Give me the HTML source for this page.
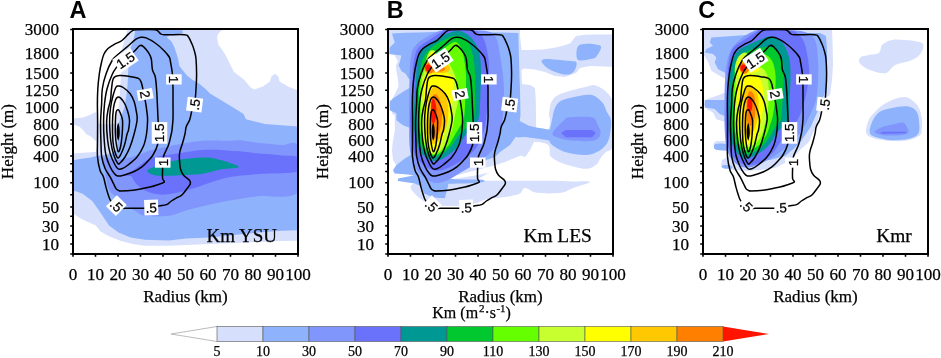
<!DOCTYPE html><html><head><meta charset="utf-8"><style>
html,body{margin:0;padding:0;background:#fff;width:941px;height:358px;overflow:hidden}
svg{display:block;will-change:transform}
text{font-family:"Liberation Serif",serif;fill:#000;stroke:#000;stroke-width:0.25px}
.t{font-size:17.1px}
.ax{font-size:17px}
.pl{font-family:"Liberation Sans",sans-serif;font-weight:bold;font-size:23.5px;stroke-width:0}
.cb{font-size:14px}
</style></head><body>
<svg width="941" height="358" viewBox="0 0 941 358">
<defs>
<clipPath id="cp0"><rect x="73" y="29" width="225" height="225"/></clipPath>
<clipPath id="cp1"><rect x="388" y="29" width="225" height="225"/></clipPath>
<clipPath id="cp2"><rect x="703" y="29" width="225" height="225"/></clipPath>
</defs>
<g clip-path="url(#cp0)"><rect x="73" y="29" width="225" height="225" fill="#d6e0fd"/><path d="M298.0,29.0L224.0,29.0L220.0,31.5L217.5,35.0L217.2,38.6L218.4,44.6L224.4,53.0L229.2,62.6L234.0,72.0L243.6,79.2L250.8,87.6L254.4,89.4L262.8,86.4L270.0,81.6L271.2,76.8L274.8,73.8L278.4,76.8L279.6,81.6L288.0,86.4L298.0,90.5Z" fill="#fff"/><path d="M73.0,29.0L127.6,29.0L126.0,35.0L124.5,40.0L122.5,47.0L121.5,53.0L121.0,60.0L121.0,72.0L120.4,84.0L119.8,96.0L119.0,106.0L117.5,112.0L116.5,118.0L116.0,124.0L105.0,124.5L98.0,123.5L96.8,116.0L96.5,112.0L94.8,112.5L89.7,115.0L83.0,117.6L74.7,118.4L73.0,118.5Z" fill="#fff"/><path d="M73.0,125.0L74.7,125.1L79.7,126.8L83.0,130.1L86.4,134.3L91.4,136.8L94.8,140.2L96.5,141.0L97.0,146.0L96.5,151.5L94.8,151.9L83.0,152.7L73.0,153.6Z" fill="#fff"/><path d="M73.0,213.4L80.2,218.2L87.4,221.8L95.8,225.4L100.6,231.4L109.0,236.2L121.0,241.0L133.0,244.0L145.0,245.8L169.0,245.8L186.0,245.0L210.0,244.0L234.0,243.0L258.0,242.0L282.0,241.0L298.0,240.8L298.0,254.0L73.0,254.0Z" fill="#fff"/><path d="M135.4,29.0L182.0,29.0L183.0,33.0L170.0,35.5L166.6,37.0L171.7,41.8L174.3,46.9L176.8,54.5L178.1,59.0L179.4,66.0L181.9,69.2L187.0,75.6L192.0,79.5L198.0,82.8L205.2,88.8L210.0,93.6L222.0,100.8L234.0,108.0L243.6,114.0L245.9,119.2L265.1,124.0L298.0,126.4L298.0,230.2L282.0,230.8L258.0,232.6L234.0,235.0L210.0,237.4L186.0,238.6L169.0,240.4L145.0,239.8L130.6,237.4L118.6,232.6L109.0,225.4L104.2,218.2L99.4,211.0L92.2,201.0L82.6,193.8L73.0,190.2L73.0,160.3L83.0,158.5L89.7,157.8L96.5,156.1L105.0,155.0L113.0,153.0L117.0,150.0L117.5,142.0L117.5,130.0L118.5,124.0L120.0,119.0L122.5,113.0L124.5,107.0L125.4,101.0L126.5,95.0L127.2,88.0L127.6,84.0L128.2,72.0L128.4,66.0L129.0,56.0L130.6,48.0L133.0,42.0L134.7,34.0Z" fill="#8fb2fc"/><path d="M103.0,158.0C103.9,156.2 107.5,158.2 110.0,158.5C112.5,158.8 115.5,160.0 118.0,160.0C120.5,160.0 122.2,159.2 125.0,158.5C127.8,157.8 131.7,157.0 135.0,156.0C138.3,155.0 142.5,153.4 145.0,152.5C147.5,151.6 146.4,151.5 150.0,150.5C153.6,149.5 161.2,147.9 166.8,146.7C172.4,145.5 178.0,144.4 183.6,143.4C189.2,142.4 195.1,141.4 200.3,140.9C205.5,140.4 210.1,140.5 215.0,140.5C219.9,140.5 225.8,140.8 230.0,140.8C234.2,140.8 235.6,140.0 240.0,140.3C244.4,140.6 251.9,142.1 256.6,142.7C261.3,143.3 263.8,143.3 268.0,143.7C272.2,144.1 277.0,144.6 282.0,145.1C287.0,145.6 295.3,138.7 298.0,146.5C300.7,154.3 304.7,183.7 298.0,192.0C291.3,200.3 268.7,194.9 258.0,196.2C247.3,197.5 242.0,198.4 234.0,199.8C226.0,201.2 218.0,202.8 210.0,204.6C202.0,206.4 192.8,208.7 186.0,210.6C179.2,212.5 175.8,214.9 169.0,215.8C162.2,216.7 150.6,216.6 145.0,215.8C139.4,215.0 138.8,212.9 135.4,211.0C132.0,209.1 127.8,206.9 124.6,204.6C121.4,202.3 119.2,199.6 116.5,197.0C113.8,194.4 110.7,193.7 108.7,189.1C106.8,184.5 105.8,174.8 104.8,169.6C103.8,164.4 102.1,159.8 103.0,158.0Z" fill="#8096fc"/><path d="M124.4,175.4C124.9,174.3 129.8,172.4 134.1,169.6C138.4,166.8 144.6,160.9 150.0,158.5C155.4,156.1 161.2,156.1 166.8,155.1C172.4,154.1 178.0,153.4 183.6,152.6C189.2,151.8 194.7,150.6 200.3,150.1C205.9,149.6 212.1,149.7 217.0,149.8C221.9,149.9 226.2,150.6 230.0,150.8C233.8,151.1 235.6,150.9 240.0,151.3C244.4,151.7 251.9,152.7 256.6,153.2C261.3,153.7 263.8,153.7 268.0,154.1C272.2,154.5 277.0,154.9 282.0,155.5C287.0,156.1 295.3,154.8 298.0,157.4C300.7,160.0 304.7,168.4 298.0,171.2C291.3,174.0 269.3,173.0 258.0,174.0C246.7,175.0 237.2,175.8 230.0,177.0C222.8,178.2 220.0,179.5 215.0,181.0C210.0,182.5 203.7,184.9 200.0,186.2C196.3,187.4 195.7,187.6 192.6,188.5C189.5,189.4 185.2,190.9 181.5,191.8C177.8,192.7 174.0,193.5 170.3,194.0C166.6,194.5 162.8,195.0 159.1,194.6C155.4,194.2 151.1,193.0 147.9,191.8C144.7,190.6 142.3,189.0 140.1,187.3C137.9,185.6 136.0,183.7 134.5,181.8C133.0,180.0 132.9,177.3 131.2,176.2C129.5,175.1 123.9,176.5 124.4,175.4Z" fill="#6a72fc"/><path d="M147.0,170.8C147.2,169.4 152.0,167.8 155.0,166.5C158.0,165.2 161.7,164.0 165.0,163.0C168.3,162.0 171.5,161.2 175.0,160.5C178.5,159.8 182.3,159.2 186.0,158.8C189.7,158.4 193.4,158.0 197.0,157.8C200.6,157.6 204.3,157.4 207.6,157.6C210.9,157.8 213.9,158.5 217.0,159.2C220.1,159.8 222.4,160.2 226.0,161.5C229.6,162.8 238.8,165.8 238.8,167.0C238.8,168.2 229.6,168.3 226.0,168.8C222.4,169.3 220.7,169.4 217.0,170.2C213.3,171.0 207.7,172.8 204.0,173.5C200.3,174.2 198.0,174.2 195.0,174.4C192.0,174.7 189.2,174.8 186.0,175.0C182.8,175.2 179.5,175.5 175.9,175.6C172.3,175.7 168.4,175.9 164.7,175.8C161.0,175.7 156.4,175.8 153.5,175.0C150.6,174.2 146.8,172.2 147.0,170.8Z" fill="#009892"/><path d="M118.0,208.2C115.5,207.0 112.5,203.2 110.9,201.0C109.3,198.8 109.2,197.7 108.4,195.3C107.6,193.0 106.7,190.0 105.9,186.9C105.1,183.8 104.4,179.6 103.4,176.8C102.4,174.0 101.0,173.5 100.0,170.2C99.0,166.8 97.9,161.7 97.5,156.7C97.1,151.7 97.5,145.8 97.5,140.0C97.5,134.2 97.6,128.0 97.6,122.0C97.6,116.0 97.4,109.5 97.4,104.0C97.4,98.5 97.5,94.0 97.8,89.0C98.1,84.0 98.7,78.5 99.3,74.0C99.9,69.5 100.8,65.3 101.6,62.0C102.4,58.7 102.9,56.2 104.0,54.0C105.1,51.8 106.3,50.1 108.0,48.5C109.7,46.9 112.0,45.6 114.3,44.3C116.6,43.0 119.7,42.2 122.0,40.5C124.3,38.8 126.7,35.7 128.4,34.1C130.1,32.5 130.9,31.6 132.2,30.9C133.5,30.2 132.2,30.0 136.0,29.8C139.8,29.6 151.1,29.2 155.2,29.8C159.2,30.4 158.8,32.7 160.3,33.5C161.8,34.3 160.1,34.5 164.1,34.7C168.1,34.9 180.5,34.4 184.5,34.7C188.5,35.0 187.0,35.1 188.3,36.7C189.6,38.3 191.0,41.8 192.1,44.3C193.2,46.8 194.0,49.5 194.7,52.0C195.3,54.5 195.7,55.3 196.0,59.0C196.3,62.7 196.6,69.0 196.6,74.0C196.6,79.0 196.3,84.7 196.0,89.0C195.7,93.3 195.7,96.5 195.0,100.0C194.3,103.5 192.9,106.7 192.0,110.0C191.1,113.3 190.6,117.2 189.6,120.0C188.6,122.8 186.9,124.5 186.2,126.7C185.4,128.9 185.7,130.8 185.1,133.4C184.5,136.0 183.6,139.7 182.8,142.3C182.1,144.9 181.2,147.1 180.6,149.0C180.0,150.9 179.7,152.2 179.5,154.0C179.3,155.8 179.3,157.5 179.5,160.0C179.7,162.5 179.8,166.4 180.5,169.0C181.2,171.6 182.1,173.4 183.6,175.3C185.1,177.2 188.3,178.9 189.4,180.3C190.5,181.7 190.7,182.3 190.3,183.7C189.9,185.1 188.3,186.8 186.9,188.7C185.5,190.6 183.5,193.6 181.9,195.0C180.3,196.4 179.2,196.4 177.4,197.4C175.7,198.4 173.2,199.8 171.4,201.0C169.6,202.2 168.7,203.8 166.6,204.6C164.5,205.4 162.6,205.4 158.8,206.0C155.0,206.6 149.3,207.8 143.8,208.2C138.3,208.6 130.1,208.2 125.8,208.2C121.5,208.2 120.5,209.4 118.0,208.2Z" fill="none" stroke="#000" stroke-width="1.5"/><path d="M116.0,188.6C115.2,187.5 114.5,185.6 113.5,183.6C112.5,181.6 111.5,179.3 110.1,176.8C108.7,174.3 106.5,171.8 105.1,168.5C103.7,165.2 102.4,161.4 101.7,156.7C101.0,151.9 101.1,145.8 100.9,140.0C100.7,134.2 100.5,128.0 100.6,122.0C100.7,116.0 101.3,109.5 101.6,104.0C101.9,98.5 101.6,94.0 102.3,89.0C103.0,84.0 104.3,78.8 106.0,74.0C107.7,69.2 110.2,63.5 112.4,60.0C114.6,56.5 117.0,55.4 119.4,53.2C121.9,51.0 124.3,49.2 127.1,46.9C129.9,44.6 133.7,40.8 136.0,39.2C138.3,37.6 139.4,37.5 141.1,37.3C142.8,37.1 143.8,36.9 146.2,37.9C148.5,38.9 152.2,40.9 155.2,43.0C158.2,45.1 161.8,48.4 164.1,50.7C166.4,53.0 168.1,55.1 169.2,57.0C170.3,58.9 170.0,59.2 170.5,62.0C171.0,64.8 172.0,69.5 172.4,74.0C172.8,78.5 172.9,84.0 173.0,89.0C173.1,94.0 173.0,99.0 173.0,104.0C173.0,109.0 173.2,114.7 173.0,119.0C172.8,123.3 172.3,127.3 172.0,130.0C171.7,132.7 171.6,132.5 171.0,135.0C170.4,137.5 169.8,141.4 168.5,145.0C167.2,148.6 164.4,152.9 163.4,156.8C162.4,160.7 162.7,165.0 162.6,168.6C162.5,172.2 162.3,176.4 162.6,178.6C162.9,180.8 165.0,181.0 164.3,182.0C163.6,183.0 160.8,183.7 158.4,184.5C156.0,185.3 154.2,186.1 150.0,187.0C145.8,187.9 137.8,189.5 133.0,190.2C128.2,190.9 123.4,191.0 121.0,191.0C118.6,191.0 119.3,190.7 118.5,190.3C117.7,189.9 116.8,189.7 116.0,188.6Z" fill="none" stroke="#000" stroke-width="1.5"/><path d="M117.6,176.0C116.1,175.7 115.5,175.0 114.3,173.5C113.0,172.0 111.5,169.9 110.1,166.8C108.7,163.7 106.9,159.5 105.9,155.0C104.9,150.5 104.6,145.5 104.2,140.0C103.8,134.5 103.5,128.0 103.6,122.0C103.6,116.0 103.9,109.5 104.5,104.0C105.1,98.5 105.7,94.0 107.0,89.0C108.3,84.0 110.7,77.7 112.4,74.0C114.1,70.3 114.9,69.6 117.0,66.8C119.1,64.0 122.2,59.5 125.0,57.0C127.8,54.5 131.0,53.9 133.5,52.0C136.0,50.1 138.1,46.5 139.8,45.6C141.5,44.8 142.2,45.6 143.7,46.9C145.2,48.2 147.5,51.2 148.8,53.2C150.1,55.2 150.7,56.2 151.3,59.0C151.9,61.8 151.8,67.0 152.5,70.0C153.2,73.0 154.6,73.5 155.3,77.0C156.0,80.5 156.2,83.8 156.7,91.0C157.2,98.2 157.7,113.2 158.1,120.0C158.5,126.8 159.1,127.8 159.0,132.0C158.9,136.2 158.5,141.2 157.5,145.0C156.5,148.8 154.6,152.3 153.0,155.0C151.4,157.7 149.8,159.0 148.0,161.0C146.2,163.0 144.3,165.0 141.9,166.8C139.5,168.6 136.7,170.4 133.6,171.8C130.5,173.2 126.2,174.5 123.5,175.2C120.8,175.9 119.1,176.3 117.6,176.0Z" fill="none" stroke="#000" stroke-width="1.5"/><path d="M117.6,168.5C116.3,167.6 115.5,166.0 114.3,163.5C113.0,161.0 111.2,157.3 110.1,153.4C109.0,149.5 108.2,145.2 107.6,140.0C107.0,134.8 106.5,127.0 106.6,122.0C106.7,117.0 107.3,113.7 108.0,110.0C108.7,106.3 109.9,103.5 110.5,100.0C111.1,96.5 111.0,92.6 111.5,89.0C112.0,85.4 112.2,80.6 113.4,78.4C114.7,76.2 116.4,75.9 119.0,75.6C121.6,75.2 125.6,75.8 128.8,76.3C132.1,76.8 136.4,77.4 138.5,78.4C140.6,79.5 140.6,81.0 141.3,82.6C142.0,84.2 142.2,86.1 142.7,88.2C143.1,90.3 143.5,92.7 144.0,95.0C144.5,97.3 145.0,99.3 145.5,102.1C146.0,104.9 146.6,108.9 146.9,111.9C147.2,114.9 147.7,116.3 147.6,120.0C147.5,123.7 147.2,129.7 146.5,134.0C145.8,138.3 145.1,142.2 143.5,146.0C141.9,149.8 139.6,153.8 137.0,157.0C134.4,160.2 130.5,163.0 128.0,165.0C125.5,167.0 123.5,168.2 121.8,168.8C120.1,169.4 118.8,169.4 117.6,168.5Z" fill="none" stroke="#000" stroke-width="1.5"/><path d="M117.9,163.5C116.7,162.1 114.7,157.6 113.5,154.0C112.3,150.4 111.6,147.3 110.9,142.0C110.2,136.7 109.7,127.7 109.6,122.0C109.5,116.3 109.9,112.5 110.5,108.0C111.1,103.5 112.2,98.5 113.2,95.0C114.2,91.5 115.2,88.3 116.2,86.8C117.2,85.3 117.8,86.0 119.0,86.1C120.2,86.2 121.3,86.2 123.2,87.5C125.1,88.8 128.3,91.3 130.2,93.7C132.0,96.1 133.3,99.1 134.3,102.1C135.3,105.1 135.9,108.9 136.4,111.9C136.9,114.9 137.5,116.3 137.1,120.0C136.7,123.7 135.3,129.5 134.1,134.0C132.9,138.5 131.5,143.2 130.0,147.0C128.5,150.8 126.6,154.4 125.0,157.0C123.4,159.6 121.7,161.4 120.5,162.5C119.3,163.6 119.1,164.9 117.9,163.5Z" fill="none" stroke="#000" stroke-width="1.5"/><path d="M118.0,158.0C117.0,157.7 115.8,154.7 115.0,152.0C114.2,149.3 113.4,147.0 113.0,142.0C112.6,137.0 112.4,127.7 112.5,122.0C112.6,116.3 113.0,111.7 113.5,108.0C114.0,104.3 114.8,101.8 115.5,100.0C116.2,98.2 116.8,97.5 117.6,97.2C118.4,96.9 119.2,96.9 120.4,97.9C121.6,99.0 123.4,101.4 124.6,103.5C125.8,105.6 126.6,107.8 127.4,110.5C128.2,113.2 129.3,116.8 129.5,120.0C129.7,123.2 128.9,127.7 128.5,130.0C128.1,132.3 127.8,131.5 127.1,134.0C126.4,136.5 125.5,141.7 124.5,145.0C123.5,148.3 122.1,151.8 121.0,154.0C119.9,156.2 119.0,158.3 118.0,158.0Z" fill="none" stroke="#000" stroke-width="1.5"/><path d="M118.4,151.8C117.7,151.5 116.8,147.0 116.3,144.0C115.8,141.0 115.6,137.7 115.4,134.0C115.2,130.3 115.3,125.7 115.4,122.0C115.5,118.3 115.7,113.9 116.2,111.9C116.7,109.9 117.6,109.6 118.3,109.8C119.0,110.0 119.7,111.6 120.4,113.3C121.1,115.0 122.2,117.5 122.5,120.0C122.8,122.5 122.6,125.3 122.5,128.0C122.4,130.7 122.3,133.0 122.0,136.0C121.7,139.0 121.3,143.4 120.7,146.0C120.1,148.6 119.1,152.1 118.4,151.8Z" fill="none" stroke="#000" stroke-width="1.5"/><path d="M118.2,122.8C120.3,127 120.3,137 118.2,140.8C116.1,137 116.1,127 118.2,122.8Z" fill="#000"/><g transform="translate(125.4,60.2) rotate(-34)"><rect x="-10.8" y="-7.75" width="21.6" height="15.5" fill="#fff"/><text x="0" y="4.83" text-anchor="middle" style="font-family:'Liberation Sans',sans-serif;font-size:13.5px">1.5</text></g><g transform="translate(173.9,79.4) rotate(90)"><rect x="-5.1" y="-7.75" width="10.2" height="15.5" fill="#fff"/><text x="0" y="4.83" text-anchor="middle" style="font-family:'Liberation Sans',sans-serif;font-size:13.5px">1</text></g><g transform="translate(194.6,104.6) rotate(-83)"><rect x="-7.0" y="-7.75" width="13.9" height="15.5" fill="#fff"/><text x="0" y="4.83" text-anchor="middle" style="font-family:'Liberation Sans',sans-serif;font-size:13.5px">.5</text></g><g transform="translate(145.1,94.4) rotate(80)"><rect x="-5.2" y="-7.75" width="10.5" height="15.5" fill="#fff"/><text x="0" y="4.83" text-anchor="middle" style="font-family:'Liberation Sans',sans-serif;font-size:13.5px">2</text></g><g transform="translate(159.5,132.9) rotate(-90)"><rect x="-10.8" y="-7.75" width="21.6" height="15.5" fill="#fff"/><text x="0" y="4.83" text-anchor="middle" style="font-family:'Liberation Sans',sans-serif;font-size:13.5px">1.5</text></g><g transform="translate(162.75,162.6) rotate(-90)"><rect x="-5.1" y="-7.75" width="10.2" height="15.5" fill="#fff"/><text x="0" y="4.83" text-anchor="middle" style="font-family:'Liberation Sans',sans-serif;font-size:13.5px">1</text></g><g transform="translate(116.4,205.7) rotate(45)"><rect x="-7.0" y="-7.75" width="13.9" height="15.5" fill="#fff"/><text x="0" y="4.83" text-anchor="middle" style="font-family:'Liberation Sans',sans-serif;font-size:13.5px">.5</text></g><g transform="translate(151.3,207.6) rotate(-2)"><rect x="-7.0" y="-7.75" width="13.9" height="15.5" fill="#fff"/><text x="0" y="4.83" text-anchor="middle" style="font-family:'Liberation Sans',sans-serif;font-size:13.5px">.5</text></g></g>
<rect x="73" y="29" width="225" height="225" fill="none" stroke="#000" stroke-width="2"/>
<path d="M70.2,254H73M70.2,29.5H73M70.2,53H73M70.2,73H73M70.2,90.2H73M70.2,107.6H73M70.2,124H73M70.2,140H73M70.2,156H73M70.2,163.8H73M70.2,171.5H73M70.2,182.7H73M70.2,194.7H73M70.2,207H73M70.2,216.2H73M70.2,226H73M70.2,235.2H73M70.2,244H73M73.0,254V256.8M95.5,254V256.8M118.0,254V256.8M140.5,254V256.8M163.0,254V256.8M185.5,254V256.8M208.0,254V256.8M230.5,254V256.8M253.0,254V256.8M275.5,254V256.8M298.0,254V256.8" stroke="#000" stroke-width="1.6" fill="none"/>
<text class="t" x="59" y="35.1" text-anchor="end">3000</text>
<text class="t" x="59" y="58.6" text-anchor="end">1800</text>
<text class="t" x="59" y="78.6" text-anchor="end">1500</text>
<text class="t" x="59" y="95.8" text-anchor="end">1250</text>
<text class="t" x="59" y="113.19999999999999" text-anchor="end">1000</text>
<text class="t" x="59" y="129.6" text-anchor="end">800</text>
<text class="t" x="59" y="145.6" text-anchor="end">600</text>
<text class="t" x="59" y="161.6" text-anchor="end">400</text>
<text class="t" x="59" y="188.29999999999998" text-anchor="end">100</text>
<text class="t" x="59" y="212.6" text-anchor="end">50</text>
<text class="t" x="59" y="231.6" text-anchor="end">30</text>
<text class="t" x="59" y="249.6" text-anchor="end">10</text>
<text class="t" x="73.0" y="279.8" text-anchor="middle">0</text>
<text class="t" x="95.5" y="279.8" text-anchor="middle">10</text>
<text class="t" x="118.0" y="279.8" text-anchor="middle">20</text>
<text class="t" x="140.5" y="279.8" text-anchor="middle">30</text>
<text class="t" x="163.0" y="279.8" text-anchor="middle">40</text>
<text class="t" x="185.5" y="279.8" text-anchor="middle">50</text>
<text class="t" x="208.0" y="279.8" text-anchor="middle">60</text>
<text class="t" x="230.5" y="279.8" text-anchor="middle">70</text>
<text class="t" x="253.0" y="279.8" text-anchor="middle">80</text>
<text class="t" x="275.5" y="279.8" text-anchor="middle">90</text>
<text class="t" x="298.0" y="279.8" text-anchor="middle">100</text>
<text class="ax" x="185.5" y="302" text-anchor="middle">Radius (km)</text>
<text class="ax" transform="translate(13.100000000000001,141.6) rotate(-90)" text-anchor="middle">Height (m)</text>
<text class="pl" x="69.6" y="17.6">A</text>
<text style="font-size:19px" x="206.5" y="241.8">Km YSU</text>
<g clip-path="url(#cp1)"><rect x="388" y="29" width="225" height="225" fill="#fff"/><path d="M388.0,29.0L520.0,29.0L520.0,36.0L521.5,50.0L531.0,50.0L543.0,49.5L553.0,48.0L562.0,46.0L570.0,43.5L576.0,36.0L585.0,34.8L594.6,34.6L609.0,34.6L613.0,34.6L613.0,67.0L605.0,66.5L590.0,66.0L580.0,68.0L576.0,73.0L565.0,77.0L555.0,76.0L545.0,72.0L535.0,69.5L524.0,68.5L521.5,70.0L522.0,84.0L530.0,85.0L535.0,88.0L535.8,100.0L536.0,118.0L536.0,130.0L534.0,142.0L530.0,150.0L526.0,156.0L519.0,160.0L510.0,163.0L500.0,167.0L490.0,172.0L480.0,178.0L470.0,184.0L462.0,188.0L450.0,192.0L440.0,193.0L430.0,190.0L420.0,183.0L412.0,176.0L405.0,172.0L398.0,168.0L393.0,160.0L392.0,150.0L393.0,140.0L394.7,130.0L394.0,120.0L392.0,112.0L390.0,100.0L390.0,90.0L391.0,80.0L393.0,70.0L392.0,60.0L388.0,55.0Z" fill="#d6e0fd"/><path d="M410.8,186.0C411.7,184.1 415.1,182.8 420.0,182.0C424.9,181.2 431.7,181.2 440.0,181.0C448.3,180.8 459.8,181.0 470.0,181.0C480.2,181.0 491.8,180.8 501.0,180.8C510.2,180.8 517.0,180.8 525.0,180.8C533.0,180.8 541.0,180.7 549.0,180.8C557.0,180.9 566.2,181.2 573.0,181.4C579.8,181.6 589.8,180.9 589.8,182.0C589.8,183.1 577.8,186.2 573.0,188.0C568.2,189.8 567.0,192.0 561.0,192.8C555.0,193.6 543.0,193.6 537.0,192.8C531.0,192.0 528.0,187.8 525.0,188.0C522.0,188.2 523.0,192.4 519.0,194.0C515.0,195.6 506.4,196.7 501.0,197.6C495.6,198.5 491.3,198.2 486.7,199.3C482.1,200.4 478.8,202.9 473.4,204.0C468.0,205.1 460.7,205.7 454.4,205.9C448.1,206.1 440.5,205.8 435.4,205.0C430.3,204.2 427.5,203.1 424.0,201.2C420.5,199.3 416.8,196.1 414.6,193.6C412.4,191.1 409.9,187.9 410.8,186.0Z" fill="#d6e0fd"/><path d="M549.0,115.0C549.4,110.7 549.8,105.4 551.4,102.0C553.0,98.6 555.0,96.8 558.6,94.8C562.2,92.8 568.2,91.4 573.0,90.0C577.8,88.6 583.8,87.2 587.4,86.4C591.0,85.6 591.8,84.6 594.6,85.2C597.4,85.8 601.4,87.8 604.2,90.0C607.0,92.2 609.9,95.9 611.4,98.4C612.9,100.9 612.7,97.2 613.0,105.0C613.3,112.8 614.2,137.2 613.0,145.0C611.8,152.8 608.1,149.8 606.0,152.0C603.9,154.2 602.1,156.0 600.6,158.0C599.1,160.0 599.2,162.2 597.0,164.0C594.8,165.8 591.4,168.4 587.4,168.8C583.4,169.2 577.4,167.4 573.0,166.4C568.6,165.4 564.4,164.2 561.0,162.8C557.6,161.4 554.8,159.8 552.6,158.0C550.4,156.2 548.6,154.7 548.0,152.0C547.4,149.3 548.8,146.0 549.0,142.0C549.2,138.0 549.0,132.5 549.0,128.0C549.0,123.5 548.6,119.3 549.0,115.0Z" fill="#d6e0fd"/><path d="M536.0,128.0L549.0,128.0L552.0,140.0L549.0,150.0L540.0,142.0L534.0,142.0Z" fill="#d6e0fd"/><path d="M537.0,116.0C538.8,114.3 547.0,114.0 549.0,116.0C551.0,118.0 549.8,125.9 549.0,128.0C548.2,130.1 545.8,128.8 544.0,128.5C542.2,128.2 539.2,128.1 538.0,126.0C536.8,123.9 535.2,117.7 537.0,116.0Z" fill="#fff"/><path d="M534.0,145.0C535.3,143.4 537.5,142.4 540.0,142.6C542.5,142.8 547.5,143.4 549.0,146.0C550.5,148.6 549.7,155.7 549.0,158.0C548.3,160.3 547.5,159.7 545.0,160.0C542.5,160.3 536.2,161.3 534.0,160.0C531.8,158.7 532.0,154.5 532.0,152.0C532.0,149.5 532.7,146.6 534.0,145.0Z" fill="#fff"/><path d="M388.0,54.0L394.4,54.9L397.9,61.2L395.8,65.4L396.5,72.3L397.9,79.3L398.6,86.3L395.8,91.9L391.6,100.0L388.0,100.0Z" fill="#fff"/><path d="M388.0,113.0L394.7,115.0L394.7,130.0L393.0,140.0L390.0,150.0L388.0,152.0Z" fill="#fff"/><path d="M549.0,139.0C549.5,143.5 552.0,144.8 555.0,147.0C558.0,149.2 562.0,151.2 567.0,152.5C572.0,153.8 580.0,155.1 585.0,155.0C590.0,154.9 593.4,153.8 597.0,152.0C600.6,150.2 604.4,147.2 606.6,144.0C608.8,140.8 609.5,137.0 610.2,133.0C610.9,129.0 611.6,123.6 611.0,120.0C610.4,116.4 607.9,114.4 606.6,111.6C605.3,108.8 605.0,105.8 603.0,103.2C601.0,100.6 597.2,97.4 594.6,96.0C592.0,94.6 591.0,94.6 587.4,94.8C583.8,95.0 577.4,96.2 573.0,97.2C568.6,98.2 564.0,99.0 561.0,100.8C558.0,102.6 556.5,104.8 555.0,108.0C553.5,111.2 553.0,114.8 552.0,120.0C551.0,125.2 548.5,134.5 549.0,139.0Z" fill="#8fb2fc"/><path d="M515.0,120.0C517.5,118.3 525.0,124.5 530.0,126.0C535.0,127.5 541.3,128.2 545.0,129.0C548.7,129.8 550.8,129.2 552.0,131.0C553.2,132.8 554.0,138.7 552.0,140.0C550.0,141.3 544.5,139.5 540.0,139.0C535.5,138.5 529.2,137.5 525.0,137.0C520.8,136.5 516.7,138.8 515.0,136.0C513.3,133.2 512.5,121.7 515.0,120.0Z" fill="#8fb2fc"/><path d="M541.5,61.1C541.5,59.8 543.1,59.2 545.7,59.0C548.3,58.8 552.7,59.4 556.9,59.7C561.1,60.1 567.6,60.6 570.9,61.1C574.2,61.6 575.8,61.1 576.5,62.5C577.2,63.9 576.0,67.6 575.1,69.5C574.2,71.4 572.8,72.9 570.9,73.7C569.0,74.5 566.9,74.9 563.9,74.4C560.9,73.9 555.7,72.2 552.7,70.9C549.7,69.6 547.6,68.3 545.7,66.7C543.8,65.1 541.5,62.4 541.5,61.1Z" fill="#8fb2fc"/><path d="M577.8,46.5C579.4,43.8 584.1,43.9 587.6,43.7C591.1,43.5 596.6,44.3 598.8,45.1C601.0,45.9 601.4,46.6 600.9,48.6C600.4,50.6 597.8,55.2 596.0,56.9C594.2,58.6 593.4,58.5 590.4,59.0C587.4,59.5 579.9,61.8 577.8,59.7C575.7,57.6 576.2,49.2 577.8,46.5Z" fill="#8fb2fc"/><path d="M392.0,33.5L405.0,32.8L420.0,32.5L445.0,31.5L470.0,32.0L500.0,32.5L518.5,33.0L518.5,40.0L519.0,60.0L519.5,75.0L520.0,90.0L520.5,115.0L519.0,125.0L517.0,135.0L510.0,145.0L500.0,152.0L495.0,157.0L485.0,160.5L470.0,162.5L457.0,166.0L450.0,174.0L448.0,186.0L444.9,198.3L433.5,197.4L424.0,193.6L420.3,186.0L414.8,183.5L398.0,181.0L398.0,178.5L414.8,175.2L404.8,174.3L394.7,173.5L393.0,170.2L396.4,165.1L404.8,158.4L413.0,153.4L411.5,128.6L403.0,125.2L396.4,120.2L396.4,113.5L389.7,110.2L389.7,101.8L393.0,98.4L403.0,91.7L411.5,86.7L412.5,82.0L408.3,78.0L405.6,73.7L401.4,71.0L398.6,65.4L400.0,61.2L401.4,55.6L389.5,54.0L389.7,47.5L394.7,42.4Z" fill="#8fb2fc"/><path d="M447.0,178.5C449.2,177.5 455.3,175.8 460.0,174.5C464.7,173.2 470.0,171.8 475.0,170.5C480.0,169.2 485.0,167.9 490.0,166.5C495.0,165.1 500.0,163.8 505.0,162.0C510.0,160.2 516.8,156.7 520.0,156.0C523.2,155.3 524.0,156.7 524.0,158.0C524.0,159.3 523.2,162.2 520.0,164.0C516.8,165.8 510.0,167.1 505.0,168.5C500.0,169.9 495.0,171.3 490.0,172.5C485.0,173.7 480.0,174.6 475.0,175.5C470.0,176.4 464.7,177.2 460.0,178.0C455.3,178.8 449.2,180.4 447.0,180.5C444.8,180.6 444.8,179.5 447.0,178.5Z" fill="#fff"/><path d="M440.0,178.5C443.3,177.9 453.0,179.3 460.0,179.5C467.0,179.7 478.3,179.4 482.0,179.8C485.7,180.2 485.7,181.6 482.0,182.2C478.3,182.8 467.0,183.5 460.0,183.6C453.0,183.7 443.3,183.8 440.0,183.0C436.7,182.2 436.7,179.1 440.0,178.5Z" fill="#8fb2fc"/><path d="M445.0,30.0C450.8,29.5 462.5,29.7 470.0,30.0C477.5,30.3 485.5,30.3 490.0,32.0C494.5,33.7 495.3,36.2 497.0,40.0C498.7,43.8 499.0,49.2 500.0,55.0C501.0,60.8 502.3,68.3 503.0,75.0C503.7,81.7 504.0,88.3 504.0,95.0C504.0,101.7 503.7,108.3 503.0,115.0C502.3,121.7 501.5,129.5 500.0,135.0C498.5,140.5 496.7,144.2 494.0,148.0C491.3,151.8 487.7,155.0 484.0,158.0C480.3,161.0 476.0,163.5 472.0,166.0C468.0,168.5 464.0,170.7 460.0,173.0C456.0,175.3 452.0,178.3 448.0,180.0C444.0,181.7 439.8,183.3 436.0,183.0C432.2,182.7 428.2,180.2 425.0,178.0C421.8,175.8 419.2,173.0 417.0,170.0C414.8,167.0 413.2,164.2 412.0,160.0C410.8,155.8 410.0,150.8 409.5,145.0C409.0,139.2 409.2,132.5 409.2,125.0C409.1,117.5 409.1,107.5 409.2,100.0C409.2,92.5 409.4,85.8 409.5,80.0C409.6,74.2 409.6,69.7 410.0,65.0C410.4,60.3 410.8,55.5 412.0,52.0C413.2,48.5 414.8,46.3 417.0,44.0C419.2,41.7 422.0,39.8 425.0,38.0C428.0,36.2 431.7,34.3 435.0,33.0C438.3,31.7 439.2,30.5 445.0,30.0Z" fill="#8096fc"/><path d="M446.0,29.5C451.0,29.2 466.3,29.2 472.0,30.0C477.7,30.8 477.8,32.0 480.0,34.0C482.2,36.0 483.6,37.8 485.0,42.0C486.4,46.2 487.8,53.5 488.5,59.0C489.2,64.5 489.0,69.8 489.0,75.0C489.0,80.2 488.8,84.2 488.5,90.0C488.2,95.8 487.8,103.3 487.0,110.0C486.2,116.7 485.8,123.7 484.0,130.0C482.2,136.3 479.2,143.3 476.0,148.0C472.8,152.7 469.0,155.0 465.0,158.0C461.0,161.0 456.2,163.9 452.0,166.0C447.8,168.1 443.7,170.0 440.0,170.5C436.3,171.0 433.2,170.2 430.0,169.0C426.8,167.8 423.5,165.3 421.0,163.0C418.5,160.7 416.6,158.8 415.0,155.0C413.4,151.2 412.3,146.0 411.5,140.0C410.7,134.0 410.0,125.7 410.0,119.0C410.0,112.3 411.1,106.5 411.5,100.0C411.9,93.5 412.2,85.8 412.5,80.0C412.8,74.2 412.6,70.0 413.3,65.0C414.0,60.0 415.0,53.9 416.7,50.3C418.4,46.7 421.2,45.4 423.5,43.5C425.8,41.6 428.3,40.5 430.3,39.2C432.3,37.9 433.4,37.1 435.4,35.8C437.4,34.5 440.4,32.6 442.2,31.6C444.0,30.6 441.0,29.8 446.0,29.5Z" fill="#6a72fc"/><path d="M457.0,31.0C459.8,30.8 461.8,31.5 464.0,32.4C466.2,33.3 468.2,34.9 470.0,36.5C471.8,38.1 473.1,39.8 474.5,42.0C475.9,44.2 477.5,47.0 478.5,50.0C479.5,53.0 480.1,55.8 480.5,60.0C480.9,64.2 481.0,70.0 481.0,75.0C481.0,80.0 480.7,85.0 480.5,90.0C480.3,95.0 480.3,100.2 480.0,105.0C479.7,109.8 479.8,115.2 478.5,119.0C477.2,122.8 474.3,125.2 472.0,128.0C469.7,130.8 466.9,133.0 464.7,136.0C462.5,139.0 461.3,143.2 459.0,146.0C456.7,148.8 453.5,151.0 451.0,153.0C448.5,155.0 446.3,156.7 444.0,158.0C441.7,159.3 439.3,160.7 437.0,161.0C434.7,161.3 432.3,161.0 430.0,160.0C427.7,159.0 425.0,157.2 423.0,155.0C421.0,152.8 419.3,150.2 418.0,147.0C416.7,143.8 415.7,140.7 415.0,136.0C414.3,131.3 413.9,125.0 413.8,119.0C413.7,113.0 414.1,106.5 414.5,100.0C414.9,93.5 415.6,85.8 416.0,80.0C416.4,74.2 416.4,69.2 417.0,65.0C417.6,60.8 418.2,57.8 419.3,55.0C420.4,52.2 421.7,50.0 423.5,48.0C425.3,46.0 427.6,44.6 430.0,43.0C432.4,41.4 435.2,40.0 438.0,38.4C440.8,36.8 443.8,34.7 447.0,33.5C450.2,32.3 454.2,31.2 457.0,31.0Z" fill="#009892"/><path d="M456.0,35.5C459.0,35.2 461.8,36.2 464.0,37.5C466.2,38.8 467.7,40.6 469.0,43.0C470.3,45.4 471.2,48.8 472.0,52.0C472.8,55.2 473.5,58.2 474.0,62.0C474.5,65.8 474.8,70.3 475.0,75.0C475.2,79.7 475.0,85.0 475.0,90.0C475.0,95.0 475.2,100.2 475.0,105.0C474.8,109.8 475.3,115.2 473.8,119.0C472.3,122.8 468.6,125.2 466.0,128.0C463.4,130.8 460.7,133.2 458.4,136.0C456.1,138.8 454.1,142.5 452.0,145.0C449.9,147.5 448.0,149.3 446.0,151.0C444.0,152.7 442.0,154.1 440.0,155.0C438.0,155.9 436.0,156.7 434.0,156.5C432.0,156.3 429.9,155.4 428.0,154.0C426.1,152.6 424.0,150.3 422.5,148.0C421.0,145.7 419.8,143.3 419.0,140.0C418.2,136.7 417.8,132.2 417.5,128.0C417.2,123.8 417.0,119.7 417.0,115.0C417.0,110.3 417.1,105.0 417.3,100.0C417.5,95.0 417.8,89.7 418.2,85.0C418.6,80.3 419.3,76.2 420.0,72.0C420.7,67.8 421.3,63.3 422.5,60.0C423.7,56.7 424.9,54.5 427.0,52.0C429.1,49.5 431.8,47.2 435.0,45.0C438.2,42.8 442.5,40.6 446.0,39.0C449.5,37.4 453.0,35.8 456.0,35.5Z" fill="#00c82e"/><path d="M455.0,42.0C457.3,41.8 458.7,44.0 460.0,46.0C461.3,48.0 462.2,50.8 463.0,54.0C463.8,57.2 464.5,61.5 465.0,65.0C465.5,68.5 465.8,71.2 466.0,75.0C466.2,78.8 466.1,83.8 466.0,88.0C465.9,92.2 465.7,94.8 465.3,100.0C464.9,105.2 464.9,114.3 463.8,119.0C462.8,123.7 460.6,125.2 459.0,128.0C457.4,130.8 455.9,133.2 454.2,136.0C452.5,138.8 451.0,142.4 449.0,145.0C447.0,147.6 444.2,149.8 442.0,151.5C439.8,153.2 437.5,154.8 435.5,155.0C433.5,155.2 431.8,154.3 430.0,153.0C428.2,151.7 426.4,149.5 425.0,147.0C423.6,144.5 422.4,141.2 421.5,138.0C420.6,134.8 420.2,131.8 419.8,128.0C419.4,124.2 419.4,119.7 419.3,115.0C419.2,110.3 419.0,104.5 419.0,100.0C419.0,95.5 419.2,91.7 419.5,88.0C419.8,84.3 419.9,81.3 420.5,78.0C421.1,74.7 421.4,71.0 423.0,68.0C424.6,65.0 427.5,62.3 430.0,60.0C432.5,57.7 435.3,56.2 438.0,54.0C440.7,51.8 443.2,49.0 446.0,47.0C448.8,45.0 452.7,42.2 455.0,42.0Z" fill="#66ff00"/><path d="M441.0,58.0C443.5,58.2 446.2,60.2 448.0,62.0C449.8,63.8 450.8,66.5 452.0,69.0C453.2,71.5 454.6,73.8 455.5,77.0C456.4,80.2 457.1,84.2 457.5,88.0C457.9,91.8 458.4,95.5 458.0,100.0C457.6,104.5 455.9,110.3 455.0,115.0C454.1,119.7 453.4,124.5 452.5,128.0C451.6,131.5 450.4,133.5 449.3,136.0C448.2,138.5 447.4,140.7 446.0,143.0C444.6,145.3 442.8,148.2 441.0,150.0C439.2,151.8 436.8,153.7 435.0,154.0C433.2,154.3 431.6,153.3 430.0,152.0C428.4,150.7 426.7,148.5 425.5,146.0C424.3,143.5 423.6,140.5 423.0,137.0C422.4,133.5 422.3,129.2 422.0,125.0C421.7,120.8 421.5,116.2 421.3,112.0C421.1,107.8 421.1,104.0 421.0,100.0C420.9,96.0 420.8,91.7 421.0,88.0C421.2,84.3 421.2,81.3 422.0,78.0C422.8,74.7 424.2,70.8 426.0,68.0C427.8,65.2 430.5,62.7 433.0,61.0C435.5,59.3 438.5,57.8 441.0,58.0Z" fill="#c8ff2e"/><path d="M432.0,72.0C434.5,71.2 437.3,71.2 440.0,71.5C442.7,71.8 445.8,72.4 448.0,73.5C450.2,74.6 452.1,75.6 453.0,78.0C453.9,80.4 453.6,84.3 453.5,88.0C453.4,91.7 453.0,95.5 452.5,100.0C452.0,104.5 451.3,110.8 450.3,115.0C449.3,119.2 447.6,121.5 446.5,125.0C445.4,128.5 444.6,132.8 443.7,136.0C442.8,139.2 442.1,141.7 441.0,144.0C439.9,146.3 438.3,148.6 437.0,150.0C435.7,151.4 434.2,152.5 433.0,152.5C431.8,152.5 430.5,151.6 429.5,150.0C428.5,148.4 427.7,146.0 427.0,143.0C426.3,140.0 425.9,135.8 425.5,132.0C425.1,128.2 425.0,124.5 424.8,120.0C424.6,115.5 424.4,109.2 424.3,105.0C424.2,100.8 424.1,98.3 424.0,95.0C423.9,91.7 423.3,88.2 423.5,85.0C423.7,81.8 423.6,78.2 425.0,76.0C426.4,73.8 429.5,72.8 432.0,72.0Z" fill="#ffff00"/><path d="M436.0,86.0C437.4,86.0 439.5,86.7 441.0,88.0C442.5,89.3 443.9,91.7 445.0,94.0C446.1,96.3 446.9,99.0 447.5,102.0C448.1,105.0 448.6,108.3 448.5,112.0C448.4,115.7 447.9,120.3 447.0,124.0C446.1,127.7 444.5,131.2 443.0,134.0C441.5,136.8 439.7,139.3 438.0,141.0C436.3,142.7 434.4,144.2 433.0,144.0C431.6,143.8 430.3,142.3 429.5,140.0C428.7,137.7 428.3,133.7 428.0,130.0C427.7,126.3 427.8,122.2 427.8,118.0C427.8,113.8 427.6,109.0 428.0,105.0C428.4,101.0 429.2,96.8 430.0,94.0C430.8,91.2 431.5,89.3 432.5,88.0C433.5,86.7 434.6,86.0 436.0,86.0Z" fill="#ffc800"/><path d="M435.0,94.0C436.0,94.0 437.5,95.3 438.5,97.0C439.5,98.7 440.4,101.2 441.0,104.0C441.6,106.8 442.0,110.3 442.0,114.0C442.0,117.7 441.7,122.5 441.0,126.0C440.3,129.5 439.1,132.8 438.0,135.0C436.9,137.2 435.5,138.8 434.5,139.0C433.5,139.2 432.6,138.0 432.0,136.0C431.4,134.0 431.2,130.7 431.0,127.0C430.8,123.3 430.8,118.0 430.8,114.0C430.8,110.0 430.9,105.8 431.2,103.0C431.5,100.2 431.9,98.5 432.5,97.0C433.1,95.5 434.0,94.0 435.0,94.0Z" fill="#ff7f00"/><path d="M433.2,98.5C433.8,98.5 434.8,100.2 435.3,102.0C435.8,103.8 436.2,106.5 436.3,109.0C436.4,111.5 436.3,114.8 436.0,117.0C435.7,119.2 435.1,121.5 434.5,122.5C433.9,123.5 433.0,123.8 432.5,123.0C432.0,122.2 431.6,120.3 431.3,118.0C431.1,115.7 430.9,111.7 431.0,109.0C431.1,106.3 431.2,103.8 431.6,102.0C432.0,100.2 432.6,98.5 433.2,98.5Z" fill="#ff1400"/><path d="M426.0,60.0C426.7,57.4 428.2,53.1 429.5,51.5C430.8,49.9 432.9,49.9 434.0,50.5C435.1,51.1 436.0,52.6 436.0,55.0C436.0,57.4 435.2,62.5 434.0,65.0C432.8,67.5 430.4,69.7 429.0,70.0C427.6,70.3 426.0,68.7 425.5,67.0C425.0,65.3 425.3,62.6 426.0,60.0Z" fill="#c8ff2e"/><path d="M428.0,60.0C428.5,57.9 429.5,54.8 430.5,53.5C431.5,52.2 433.2,52.1 434.0,52.5C434.8,52.9 435.2,54.2 435.0,56.0C434.8,57.8 433.8,61.0 433.0,63.0C432.2,65.0 430.9,67.5 430.0,68.0C429.1,68.5 427.8,67.3 427.5,66.0C427.2,64.7 427.5,62.1 428.0,60.0Z" fill="#ffff00"/><path d="M552.6,133.0C553.6,130.0 562.0,122.4 564.6,119.8C567.2,117.2 563.6,117.8 568.2,117.4C572.8,117.0 587.4,116.4 592.2,117.4C597.0,118.4 595.6,120.8 597.0,123.4C598.4,126.0 601.0,130.2 600.6,133.0C600.2,135.8 599.2,138.9 594.6,140.2C590.0,141.5 579.0,141.2 573.0,140.8C567.0,140.4 562.0,139.1 558.6,137.8C555.2,136.5 551.6,136.0 552.6,133.0Z" fill="#8096fc"/><path d="M561.0,133.0L565.8,130.0L592.2,130.0L595.8,133.0L592.2,137.2L565.8,137.2Z" fill="#6a72fc"/><path d="M425.0,64.0C425.9,63.0 427.5,62.1 430.0,62.0C432.5,61.9 437.0,63.0 440.0,63.5C443.0,64.0 446.3,64.1 448.0,65.0C449.7,65.9 450.3,67.8 450.0,69.0C449.7,70.2 448.3,71.8 446.0,72.5C443.7,73.2 439.0,73.1 436.0,73.0C433.0,72.9 429.9,72.8 428.0,72.0C426.1,71.2 425.0,69.3 424.5,68.0C424.0,66.7 424.1,65.0 425.0,64.0Z" fill="#ffc800"/><path d="M426.0,65.5C426.5,64.4 428.8,63.9 431.0,64.0C433.2,64.1 436.7,65.3 439.0,66.0C441.3,66.7 444.3,67.2 445.0,68.0C445.7,68.8 444.5,70.4 443.0,71.0C441.5,71.6 438.5,71.6 436.0,71.5C433.5,71.4 429.7,71.5 428.0,70.5C426.3,69.5 425.5,66.6 426.0,65.5Z" fill="#ff7f00"/><path d="M425.0,64.0C425.8,63.0 427.6,62.3 429.0,62.5C430.4,62.7 432.7,63.8 433.5,65.0C434.3,66.2 434.4,68.6 434.0,70.0C433.6,71.4 432.2,73.1 431.0,73.5C429.8,73.9 427.6,73.3 426.5,72.5C425.4,71.7 424.8,69.9 424.5,68.5C424.2,67.1 424.2,65.0 425.0,64.0Z" fill="#ff7f00"/><path d="M426.0,65.5C426.6,64.8 428.2,64.2 429.0,64.5C429.8,64.8 430.8,66.0 431.0,67.0C431.2,68.0 431.1,69.8 430.5,70.5C429.9,71.2 428.3,71.8 427.5,71.5C426.7,71.2 425.8,70.0 425.5,69.0C425.2,68.0 425.4,66.2 426.0,65.5Z" fill="#ff1400"/><g transform="translate(315,0)"><path d="M118.0,208.2C115.5,207.0 112.5,203.2 110.9,201.0C109.3,198.8 109.2,197.7 108.4,195.3C107.6,193.0 106.7,190.0 105.9,186.9C105.1,183.8 104.4,179.6 103.4,176.8C102.4,174.0 101.0,173.5 100.0,170.2C99.0,166.8 97.9,161.7 97.5,156.7C97.1,151.7 97.5,145.8 97.5,140.0C97.5,134.2 97.6,128.0 97.6,122.0C97.6,116.0 97.4,109.5 97.4,104.0C97.4,98.5 97.5,94.0 97.8,89.0C98.1,84.0 98.7,78.5 99.3,74.0C99.9,69.5 100.8,65.3 101.6,62.0C102.4,58.7 102.9,56.2 104.0,54.0C105.1,51.8 106.3,50.1 108.0,48.5C109.7,46.9 112.0,45.6 114.3,44.3C116.6,43.0 119.7,42.2 122.0,40.5C124.3,38.8 126.7,35.7 128.4,34.1C130.1,32.5 130.9,31.6 132.2,30.9C133.5,30.2 132.2,30.0 136.0,29.8C139.8,29.6 151.1,29.2 155.2,29.8C159.2,30.4 158.8,32.7 160.3,33.5C161.8,34.3 160.1,34.5 164.1,34.7C168.1,34.9 180.5,34.4 184.5,34.7C188.5,35.0 187.0,35.1 188.3,36.7C189.6,38.3 191.0,41.8 192.1,44.3C193.2,46.8 194.0,49.5 194.7,52.0C195.3,54.5 195.7,55.3 196.0,59.0C196.3,62.7 196.6,69.0 196.6,74.0C196.6,79.0 196.3,84.7 196.0,89.0C195.7,93.3 195.7,96.5 195.0,100.0C194.3,103.5 192.9,106.7 192.0,110.0C191.1,113.3 190.6,117.2 189.6,120.0C188.6,122.8 186.9,124.5 186.2,126.7C185.4,128.9 185.7,130.8 185.1,133.4C184.5,136.0 183.6,139.7 182.8,142.3C182.1,144.9 181.2,147.1 180.6,149.0C180.0,150.9 179.7,152.2 179.5,154.0C179.3,155.8 179.3,157.5 179.5,160.0C179.7,162.5 179.8,166.4 180.5,169.0C181.2,171.6 182.1,173.4 183.6,175.3C185.1,177.2 188.3,178.9 189.4,180.3C190.5,181.7 190.7,182.3 190.3,183.7C189.9,185.1 188.3,186.8 186.9,188.7C185.5,190.6 183.5,193.6 181.9,195.0C180.3,196.4 179.2,196.4 177.4,197.4C175.7,198.4 173.2,199.8 171.4,201.0C169.6,202.2 168.7,203.8 166.6,204.6C164.5,205.4 162.6,205.4 158.8,206.0C155.0,206.6 149.3,207.8 143.8,208.2C138.3,208.6 130.1,208.2 125.8,208.2C121.5,208.2 120.5,209.4 118.0,208.2Z" fill="none" stroke="#000" stroke-width="1.5"/><path d="M116.0,188.6C115.2,187.5 114.5,185.6 113.5,183.6C112.5,181.6 111.5,179.3 110.1,176.8C108.7,174.3 106.5,171.8 105.1,168.5C103.7,165.2 102.4,161.4 101.7,156.7C101.0,151.9 101.1,145.8 100.9,140.0C100.7,134.2 100.5,128.0 100.6,122.0C100.7,116.0 101.3,109.5 101.6,104.0C101.9,98.5 101.6,94.0 102.3,89.0C103.0,84.0 104.3,78.8 106.0,74.0C107.7,69.2 110.2,63.5 112.4,60.0C114.6,56.5 117.0,55.4 119.4,53.2C121.9,51.0 124.3,49.2 127.1,46.9C129.9,44.6 133.7,40.8 136.0,39.2C138.3,37.6 139.4,37.5 141.1,37.3C142.8,37.1 143.8,36.9 146.2,37.9C148.5,38.9 152.2,40.9 155.2,43.0C158.2,45.1 161.8,48.4 164.1,50.7C166.4,53.0 168.1,55.1 169.2,57.0C170.3,58.9 170.0,59.2 170.5,62.0C171.0,64.8 172.0,69.5 172.4,74.0C172.8,78.5 172.9,84.0 173.0,89.0C173.1,94.0 173.0,99.0 173.0,104.0C173.0,109.0 173.2,114.7 173.0,119.0C172.8,123.3 172.3,127.3 172.0,130.0C171.7,132.7 171.6,132.5 171.0,135.0C170.4,137.5 169.8,141.4 168.5,145.0C167.2,148.6 164.4,152.9 163.4,156.8C162.4,160.7 162.7,165.0 162.6,168.6C162.5,172.2 162.3,176.4 162.6,178.6C162.9,180.8 165.0,181.0 164.3,182.0C163.6,183.0 160.8,183.7 158.4,184.5C156.0,185.3 154.2,186.1 150.0,187.0C145.8,187.9 137.8,189.5 133.0,190.2C128.2,190.9 123.4,191.0 121.0,191.0C118.6,191.0 119.3,190.7 118.5,190.3C117.7,189.9 116.8,189.7 116.0,188.6Z" fill="none" stroke="#000" stroke-width="1.5"/><path d="M117.6,176.0C116.1,175.7 115.5,175.0 114.3,173.5C113.0,172.0 111.5,169.9 110.1,166.8C108.7,163.7 106.9,159.5 105.9,155.0C104.9,150.5 104.6,145.5 104.2,140.0C103.8,134.5 103.5,128.0 103.6,122.0C103.6,116.0 103.9,109.5 104.5,104.0C105.1,98.5 105.7,94.0 107.0,89.0C108.3,84.0 110.7,77.7 112.4,74.0C114.1,70.3 114.9,69.6 117.0,66.8C119.1,64.0 122.2,59.5 125.0,57.0C127.8,54.5 131.0,53.9 133.5,52.0C136.0,50.1 138.1,46.5 139.8,45.6C141.5,44.8 142.2,45.6 143.7,46.9C145.2,48.2 147.5,51.2 148.8,53.2C150.1,55.2 150.7,56.2 151.3,59.0C151.9,61.8 151.8,67.0 152.5,70.0C153.2,73.0 154.6,73.5 155.3,77.0C156.0,80.5 156.2,83.8 156.7,91.0C157.2,98.2 157.7,113.2 158.1,120.0C158.5,126.8 159.1,127.8 159.0,132.0C158.9,136.2 158.5,141.2 157.5,145.0C156.5,148.8 154.6,152.3 153.0,155.0C151.4,157.7 149.8,159.0 148.0,161.0C146.2,163.0 144.3,165.0 141.9,166.8C139.5,168.6 136.7,170.4 133.6,171.8C130.5,173.2 126.2,174.5 123.5,175.2C120.8,175.9 119.1,176.3 117.6,176.0Z" fill="none" stroke="#000" stroke-width="1.5"/><path d="M117.6,168.5C116.3,167.6 115.5,166.0 114.3,163.5C113.0,161.0 111.2,157.3 110.1,153.4C109.0,149.5 108.2,145.2 107.6,140.0C107.0,134.8 106.5,127.0 106.6,122.0C106.7,117.0 107.3,113.7 108.0,110.0C108.7,106.3 109.9,103.5 110.5,100.0C111.1,96.5 111.0,92.6 111.5,89.0C112.0,85.4 112.2,80.6 113.4,78.4C114.7,76.2 116.4,75.9 119.0,75.6C121.6,75.2 125.6,75.8 128.8,76.3C132.1,76.8 136.4,77.4 138.5,78.4C140.6,79.5 140.6,81.0 141.3,82.6C142.0,84.2 142.2,86.1 142.7,88.2C143.1,90.3 143.5,92.7 144.0,95.0C144.5,97.3 145.0,99.3 145.5,102.1C146.0,104.9 146.6,108.9 146.9,111.9C147.2,114.9 147.7,116.3 147.6,120.0C147.5,123.7 147.2,129.7 146.5,134.0C145.8,138.3 145.1,142.2 143.5,146.0C141.9,149.8 139.6,153.8 137.0,157.0C134.4,160.2 130.5,163.0 128.0,165.0C125.5,167.0 123.5,168.2 121.8,168.8C120.1,169.4 118.8,169.4 117.6,168.5Z" fill="none" stroke="#000" stroke-width="1.5"/><path d="M117.9,163.5C116.7,162.1 114.7,157.6 113.5,154.0C112.3,150.4 111.6,147.3 110.9,142.0C110.2,136.7 109.7,127.7 109.6,122.0C109.5,116.3 109.9,112.5 110.5,108.0C111.1,103.5 112.2,98.5 113.2,95.0C114.2,91.5 115.2,88.3 116.2,86.8C117.2,85.3 117.8,86.0 119.0,86.1C120.2,86.2 121.3,86.2 123.2,87.5C125.1,88.8 128.3,91.3 130.2,93.7C132.0,96.1 133.3,99.1 134.3,102.1C135.3,105.1 135.9,108.9 136.4,111.9C136.9,114.9 137.5,116.3 137.1,120.0C136.7,123.7 135.3,129.5 134.1,134.0C132.9,138.5 131.5,143.2 130.0,147.0C128.5,150.8 126.6,154.4 125.0,157.0C123.4,159.6 121.7,161.4 120.5,162.5C119.3,163.6 119.1,164.9 117.9,163.5Z" fill="none" stroke="#000" stroke-width="1.5"/><path d="M118.0,158.0C117.0,157.7 115.8,154.7 115.0,152.0C114.2,149.3 113.4,147.0 113.0,142.0C112.6,137.0 112.4,127.7 112.5,122.0C112.6,116.3 113.0,111.7 113.5,108.0C114.0,104.3 114.8,101.8 115.5,100.0C116.2,98.2 116.8,97.5 117.6,97.2C118.4,96.9 119.2,96.9 120.4,97.9C121.6,99.0 123.4,101.4 124.6,103.5C125.8,105.6 126.6,107.8 127.4,110.5C128.2,113.2 129.3,116.8 129.5,120.0C129.7,123.2 128.9,127.7 128.5,130.0C128.1,132.3 127.8,131.5 127.1,134.0C126.4,136.5 125.5,141.7 124.5,145.0C123.5,148.3 122.1,151.8 121.0,154.0C119.9,156.2 119.0,158.3 118.0,158.0Z" fill="none" stroke="#000" stroke-width="1.5"/><path d="M118.4,151.8C117.7,151.5 116.8,147.0 116.3,144.0C115.8,141.0 115.6,137.7 115.4,134.0C115.2,130.3 115.3,125.7 115.4,122.0C115.5,118.3 115.7,113.9 116.2,111.9C116.7,109.9 117.6,109.6 118.3,109.8C119.0,110.0 119.7,111.6 120.4,113.3C121.1,115.0 122.2,117.5 122.5,120.0C122.8,122.5 122.6,125.3 122.5,128.0C122.4,130.7 122.3,133.0 122.0,136.0C121.7,139.0 121.3,143.4 120.7,146.0C120.1,148.6 119.1,152.1 118.4,151.8Z" fill="none" stroke="#000" stroke-width="1.5"/><path d="M118.2,122.8C120.3,127 120.3,137 118.2,140.8C116.1,137 116.1,127 118.2,122.8Z" fill="#000"/><g transform="translate(125.4,60.2) rotate(-34)"><rect x="-10.8" y="-7.75" width="21.6" height="15.5" fill="#fff"/><text x="0" y="4.83" text-anchor="middle" style="font-family:'Liberation Sans',sans-serif;font-size:13.5px">1.5</text></g><g transform="translate(173.9,79.4) rotate(90)"><rect x="-5.1" y="-7.75" width="10.2" height="15.5" fill="#fff"/><text x="0" y="4.83" text-anchor="middle" style="font-family:'Liberation Sans',sans-serif;font-size:13.5px">1</text></g><g transform="translate(194.6,104.6) rotate(-83)"><rect x="-7.0" y="-7.75" width="13.9" height="15.5" fill="#fff"/><text x="0" y="4.83" text-anchor="middle" style="font-family:'Liberation Sans',sans-serif;font-size:13.5px">.5</text></g><g transform="translate(145.1,94.4) rotate(80)"><rect x="-5.2" y="-7.75" width="10.5" height="15.5" fill="#fff"/><text x="0" y="4.83" text-anchor="middle" style="font-family:'Liberation Sans',sans-serif;font-size:13.5px">2</text></g><g transform="translate(159.5,132.9) rotate(-90)"><rect x="-10.8" y="-7.75" width="21.6" height="15.5" fill="#fff"/><text x="0" y="4.83" text-anchor="middle" style="font-family:'Liberation Sans',sans-serif;font-size:13.5px">1.5</text></g><g transform="translate(162.75,162.6) rotate(-90)"><rect x="-5.1" y="-7.75" width="10.2" height="15.5" fill="#fff"/><text x="0" y="4.83" text-anchor="middle" style="font-family:'Liberation Sans',sans-serif;font-size:13.5px">1</text></g><g transform="translate(116.4,205.7) rotate(45)"><rect x="-7.0" y="-7.75" width="13.9" height="15.5" fill="#fff"/><text x="0" y="4.83" text-anchor="middle" style="font-family:'Liberation Sans',sans-serif;font-size:13.5px">.5</text></g><g transform="translate(151.3,207.6) rotate(-2)"><rect x="-7.0" y="-7.75" width="13.9" height="15.5" fill="#fff"/><text x="0" y="4.83" text-anchor="middle" style="font-family:'Liberation Sans',sans-serif;font-size:13.5px">.5</text></g></g></g>
<rect x="388" y="29" width="225" height="225" fill="none" stroke="#000" stroke-width="2"/>
<path d="M385.2,254H388M385.2,29.5H388M385.2,53H388M385.2,73H388M385.2,90.2H388M385.2,107.6H388M385.2,124H388M385.2,140H388M385.2,156H388M385.2,163.8H388M385.2,171.5H388M385.2,182.7H388M385.2,194.7H388M385.2,207H388M385.2,216.2H388M385.2,226H388M385.2,235.2H388M385.2,244H388M388.0,254V256.8M410.5,254V256.8M433.0,254V256.8M455.5,254V256.8M478.0,254V256.8M500.5,254V256.8M523.0,254V256.8M545.5,254V256.8M568.0,254V256.8M590.5,254V256.8M613.0,254V256.8" stroke="#000" stroke-width="1.6" fill="none"/>
<text class="t" x="374" y="35.1" text-anchor="end">3000</text>
<text class="t" x="374" y="58.6" text-anchor="end">1800</text>
<text class="t" x="374" y="78.6" text-anchor="end">1500</text>
<text class="t" x="374" y="95.8" text-anchor="end">1250</text>
<text class="t" x="374" y="113.19999999999999" text-anchor="end">1000</text>
<text class="t" x="374" y="129.6" text-anchor="end">800</text>
<text class="t" x="374" y="145.6" text-anchor="end">600</text>
<text class="t" x="374" y="161.6" text-anchor="end">400</text>
<text class="t" x="374" y="188.29999999999998" text-anchor="end">100</text>
<text class="t" x="374" y="212.6" text-anchor="end">50</text>
<text class="t" x="374" y="231.6" text-anchor="end">30</text>
<text class="t" x="374" y="249.6" text-anchor="end">10</text>
<text class="t" x="388.0" y="279.8" text-anchor="middle">0</text>
<text class="t" x="410.5" y="279.8" text-anchor="middle">10</text>
<text class="t" x="433.0" y="279.8" text-anchor="middle">20</text>
<text class="t" x="455.5" y="279.8" text-anchor="middle">30</text>
<text class="t" x="478.0" y="279.8" text-anchor="middle">40</text>
<text class="t" x="500.5" y="279.8" text-anchor="middle">50</text>
<text class="t" x="523.0" y="279.8" text-anchor="middle">60</text>
<text class="t" x="545.5" y="279.8" text-anchor="middle">70</text>
<text class="t" x="568.0" y="279.8" text-anchor="middle">80</text>
<text class="t" x="590.5" y="279.8" text-anchor="middle">90</text>
<text class="t" x="613.0" y="279.8" text-anchor="middle">100</text>
<text class="ax" x="500.5" y="302" text-anchor="middle">Radius (km)</text>
<text class="ax" transform="translate(328.1,141.6) rotate(-90)" text-anchor="middle">Height (m)</text>
<text class="pl" x="386.8" y="17.6">B</text>
<text style="font-size:19.4px" x="523.4" y="241.8">Km LES</text>
<g clip-path="url(#cp2)"><rect x="703" y="29" width="225" height="225" fill="#fff"/><path d="M703.0,29.0L832.0,29.0L832.6,45.0L833.0,64.0L832.0,80.0L830.0,95.0L824.6,99.0L820.7,110.7L816.8,124.4L808.9,142.0L800.0,150.0L793.3,157.7L785.0,163.0L775.0,168.0L760.0,170.0L745.0,171.0L733.0,170.0L726.0,167.0L721.0,165.0L722.0,160.0L729.0,156.0L729.0,150.0L725.0,146.0L716.0,148.0L713.0,144.0L716.0,141.0L726.5,141.0L727.0,130.0L726.5,122.5L716.4,119.2L713.0,112.5L706.4,109.1L704.0,104.0L706.4,99.0L716.4,95.7L724.8,92.4L726.5,89.0L725.0,79.0L718.0,75.0L711.4,71.0L708.0,62.0L703.0,54.0Z" fill="#d6e0fd"/><path d="M860.2,57.4C861.7,55.9 865.9,55.8 869.0,55.0C872.1,54.2 876.9,54.4 879.1,52.7C881.3,51.0 880.2,46.9 882.3,44.8C884.4,42.7 888.0,40.8 891.8,40.0C895.6,39.2 900.8,39.7 905.0,40.0C909.2,40.3 914.0,40.8 917.0,41.6C920.0,42.4 922.8,42.7 923.3,44.8C923.8,46.9 922.3,51.7 920.2,54.3C918.1,56.9 914.9,58.8 910.7,60.6C906.5,62.4 899.1,63.2 894.9,65.3C890.7,67.4 889.6,72.4 885.4,73.2C881.2,74.0 873.9,71.6 869.7,70.0C865.5,68.4 861.8,65.8 860.2,63.7C858.6,61.6 858.7,58.9 860.2,57.4Z" fill="#d6e0fd"/><path d="M866.3,133.5C865.2,130.8 866.9,125.2 868.0,122.0C869.1,118.8 869.9,117.3 872.8,114.2C875.7,111.1 880.1,106.1 885.4,103.2C890.7,100.3 899.1,96.6 904.4,96.9C909.7,97.2 914.1,101.3 917.0,104.8C919.9,108.3 920.9,113.8 921.7,118.0C922.5,122.2 922.0,127.2 921.7,130.1C921.4,133.0 922.2,133.5 920.0,135.2C917.8,136.9 913.0,139.2 908.3,140.2C903.5,141.2 897.1,141.3 891.5,141.0C885.9,140.7 878.9,139.8 874.7,138.5C870.5,137.2 867.4,136.2 866.3,133.5Z" fill="#d6e0fd"/><path d="M703.0,54.0L708.0,62.0L711.4,71.0L718.0,75.0L725.0,79.0L726.5,89.0L724.8,92.4L716.4,95.7L706.4,99.0L704.0,104.0L703.0,104.0Z" fill="#fff"/><path d="M711.4,37.4L740.0,35.5L760.0,34.0L790.0,33.0L820.0,33.0L826.0,36.0L827.0,50.0L827.0,70.0L826.0,90.0L822.0,100.0L818.7,108.8L810.9,126.4L799.1,144.0L785.4,155.8L770.0,160.0L750.0,160.0L737.0,150.0L730.0,147.0L728.1,79.3L724.8,72.6L718.1,69.2L714.7,62.5L716.4,57.5L713.0,54.1L704.7,52.5L706.4,49.1L713.0,45.8L709.7,42.4Z" fill="#8fb2fc"/><path d="M704.7,99.9L726.5,99.9L728.0,105.0L728.0,117.5L719.8,114.1L714.7,109.1L704.7,107.4Z" fill="#8fb2fc"/><path d="M714.7,144.5C715.9,143.6 719.5,143.3 722.0,143.4C724.5,143.5 728.7,143.9 730.0,145.0C731.3,146.1 731.3,149.1 730.0,150.0C728.7,150.9 724.5,150.7 722.0,150.5C719.5,150.3 715.9,150.0 714.7,149.0C713.5,148.0 713.5,145.4 714.7,144.5Z" fill="#8fb2fc"/><path d="M721.4,166.0C721.7,165.4 724.3,165.0 726.0,165.0C727.7,165.0 730.6,165.4 731.5,166.0C732.4,166.6 732.8,168.1 731.5,168.5C730.2,168.9 725.7,168.9 724.0,168.5C722.3,168.1 721.1,166.6 721.4,166.0Z" fill="#8fb2fc"/><path d="M869.7,131.8C869.4,129.0 871.3,123.3 873.0,120.0C874.7,116.7 876.7,113.7 879.8,111.7C882.9,109.7 887.2,108.8 891.8,107.9C896.4,107.0 903.4,105.7 907.5,106.3C911.6,106.9 914.8,108.8 916.7,111.7C918.7,114.6 918.9,119.8 919.2,123.4C919.5,127.0 919.8,131.0 918.3,133.5C916.8,136.0 914.5,137.4 910.0,138.5C905.5,139.6 897.4,140.5 891.5,140.2C885.6,139.9 878.3,138.2 874.7,136.8C871.1,135.4 870.0,134.6 869.7,131.8Z" fill="#8fb2fc"/><path d="M874.7,131.8C874.7,130.4 879.7,128.1 883.1,126.8C886.5,125.5 891.6,124.7 895.0,124.0C898.4,123.3 901.3,122.1 903.2,122.6C905.1,123.1 905.8,125.1 906.6,126.8C907.5,128.5 909.4,131.3 908.3,132.7C907.2,134.1 904.1,134.8 899.9,135.2C895.7,135.6 887.3,135.8 883.1,135.2C878.9,134.6 874.7,133.2 874.7,131.8Z" fill="#8096fc"/><path d="M879.8,132.7L883.1,131.8L905.0,131.8L906.6,133.2L883.1,133.8Z" fill="#6a72fc"/><path d="M760.0,30.0C765.5,29.7 777.5,29.7 785.0,30.0C792.5,30.3 800.0,30.3 805.0,32.0C810.0,33.7 812.8,35.3 815.0,40.0C817.2,44.7 817.5,53.3 818.0,60.0C818.5,66.7 818.3,73.3 818.0,80.0C817.7,86.7 817.3,94.2 816.0,100.0C814.7,105.8 812.3,110.0 810.0,115.0C807.7,120.0 805.0,125.5 802.0,130.0C799.0,134.5 795.7,138.3 792.0,142.0C788.3,145.7 784.0,149.0 780.0,152.0C776.0,155.0 772.2,157.7 768.0,160.0C763.8,162.3 758.8,164.8 755.0,166.0C751.2,167.2 748.0,167.8 745.0,167.5C742.0,167.2 739.5,166.2 737.0,164.5C734.5,162.8 731.8,160.2 730.0,157.0C728.2,153.8 726.9,150.3 726.0,145.0C725.1,139.7 724.8,132.5 724.5,125.0C724.2,117.5 724.4,107.5 724.5,100.0C724.6,92.5 724.6,86.3 725.0,80.0C725.4,73.7 725.8,67.3 727.0,62.0C728.2,56.7 729.5,52.0 732.0,48.0C734.5,44.0 738.7,40.7 742.0,38.0C745.3,35.3 749.0,33.3 752.0,32.0C755.0,30.7 754.5,30.3 760.0,30.0Z" fill="#8096fc"/><path d="M761.0,29.5C766.0,29.2 781.0,29.4 787.0,30.0C793.0,30.6 794.2,31.0 797.0,33.0C799.8,35.0 802.2,37.7 804.0,42.0C805.8,46.3 807.2,53.5 808.0,59.0C808.8,64.5 809.3,69.0 809.0,75.0C808.7,81.0 807.5,88.3 806.0,95.0C804.5,101.7 802.3,109.5 800.0,115.0C797.7,120.5 794.8,124.2 792.0,128.0C789.2,131.8 785.8,134.3 783.0,138.0C780.2,141.7 777.8,146.5 775.0,150.0C772.2,153.5 769.3,156.6 766.0,159.0C762.7,161.4 758.3,163.5 755.0,164.5C751.7,165.5 748.7,165.4 746.0,165.0C743.3,164.6 741.3,163.7 739.0,162.0C736.7,160.3 734.0,158.3 732.0,155.0C730.0,151.7 728.1,148.0 727.0,142.0C725.9,136.0 725.6,126.0 725.5,119.0C725.4,112.0 726.2,106.5 726.5,100.0C726.8,93.5 727.2,85.8 727.5,80.0C727.8,74.2 727.7,70.0 728.4,65.0C729.1,60.0 730.0,53.9 731.7,50.3C733.4,46.7 736.2,45.4 738.5,43.5C740.8,41.6 743.3,40.5 745.3,39.2C747.3,37.9 748.4,37.1 750.4,35.8C752.4,34.5 755.4,32.6 757.2,31.6C759.0,30.6 756.0,29.8 761.0,29.5Z" fill="#6a72fc"/><path d="M768.0,36.6C770.0,36.3 771.7,36.4 774.0,37.4C776.3,38.4 779.8,40.2 782.0,42.4C784.2,44.6 785.7,47.4 787.0,50.8C788.3,54.2 789.4,57.7 790.0,62.6C790.6,67.5 790.6,73.8 790.5,80.0C790.4,86.2 789.8,93.5 789.5,100.0C789.2,106.5 789.6,114.7 788.5,119.0C787.4,123.3 785.0,123.7 783.0,126.0C781.0,128.3 778.3,130.5 776.5,133.0C774.7,135.5 773.9,138.3 772.0,141.0C770.1,143.7 767.7,146.7 765.0,149.0C762.3,151.3 758.7,153.5 756.0,155.0C753.3,156.5 751.0,157.4 749.0,158.0C747.0,158.6 746.0,159.3 744.0,158.5C742.0,157.7 739.0,155.4 737.0,153.0C735.0,150.6 733.3,147.3 732.0,144.0C730.7,140.7 729.6,137.2 729.0,133.0C728.4,128.8 728.5,124.5 728.4,119.0C728.3,113.5 728.2,106.5 728.4,100.0C728.6,93.5 728.9,86.2 729.5,80.0C730.1,73.8 730.6,67.5 732.0,62.6C733.4,57.7 735.0,53.9 738.0,50.8C741.0,47.7 746.0,46.0 750.0,44.0C754.0,42.0 759.0,40.2 762.0,39.0C765.0,37.8 766.0,36.9 768.0,36.6Z" fill="#009892"/><path d="M771.0,47.0C773.3,47.2 774.3,47.5 776.0,49.0C777.7,50.5 779.8,53.2 781.0,56.0C782.2,58.8 783.1,62.0 783.5,66.0C783.9,70.0 783.7,74.3 783.5,80.0C783.3,85.7 782.9,93.5 782.5,100.0C782.1,106.5 782.1,114.7 781.0,119.0C779.9,123.3 777.5,123.7 776.0,126.0C774.5,128.3 773.6,130.3 771.9,133.0C770.2,135.7 768.1,139.3 766.0,142.0C763.9,144.7 761.3,147.2 759.0,149.0C756.7,150.8 754.2,152.2 752.0,153.0C749.8,153.8 748.2,154.7 746.0,154.0C743.8,153.3 740.8,151.2 739.0,149.0C737.2,146.8 736.2,144.2 735.0,141.0C733.8,137.8 732.7,133.7 732.0,130.0C731.3,126.3 731.2,124.0 731.0,119.0C730.8,114.0 730.8,105.7 731.0,100.0C731.2,94.3 731.9,90.3 732.5,85.0C733.1,79.7 733.2,72.7 734.5,68.0C735.8,63.3 737.4,60.0 740.0,57.0C742.6,54.0 746.3,51.6 750.0,50.0C753.7,48.4 758.5,48.0 762.0,47.5C765.5,47.0 768.7,46.8 771.0,47.0Z" fill="#00c82e"/><path d="M760.0,53.0C763.0,53.0 765.8,54.3 768.0,56.0C770.2,57.7 771.8,59.8 773.0,63.0C774.2,66.2 775.1,70.5 775.5,75.0C775.9,79.5 775.5,85.8 775.4,90.0C775.3,94.2 775.4,95.8 775.0,100.0C774.6,104.2 773.8,110.8 773.0,115.0C772.2,119.2 771.0,122.0 770.0,125.0C769.0,128.0 768.6,130.2 767.3,133.0C766.0,135.8 764.0,139.5 762.0,142.0C760.0,144.5 757.3,146.6 755.0,148.0C752.7,149.4 750.2,150.5 748.0,150.5C745.8,150.5 743.8,149.9 742.0,148.0C740.2,146.1 738.2,142.3 737.0,139.0C735.8,135.7 735.1,132.0 734.5,128.0C733.9,124.0 733.7,119.7 733.5,115.0C733.3,110.3 733.4,105.0 733.5,100.0C733.6,95.0 733.6,89.7 734.0,85.0C734.4,80.3 734.8,75.8 736.0,72.0C737.2,68.2 738.7,64.7 741.0,62.0C743.3,59.3 746.8,57.5 750.0,56.0C753.2,54.5 757.0,53.0 760.0,53.0Z" fill="#66ff00"/><path d="M752.0,66.0C755.2,66.0 759.5,66.5 762.0,68.0C764.5,69.5 765.9,71.7 767.0,75.0C768.1,78.3 768.4,83.8 768.7,88.0C769.0,92.2 769.0,95.5 768.7,100.0C768.4,104.5 767.7,110.8 767.0,115.0C766.3,119.2 765.2,122.0 764.5,125.0C763.8,128.0 763.7,130.3 762.6,133.0C761.5,135.7 759.8,138.8 758.0,141.0C756.2,143.2 754.0,145.0 752.0,146.0C750.0,147.0 748.1,148.2 746.0,147.0C743.9,145.8 741.1,142.2 739.5,139.0C737.9,135.8 737.2,132.0 736.5,128.0C735.8,124.0 735.2,119.7 735.0,115.0C734.8,110.3 734.9,105.0 735.0,100.0C735.1,95.0 735.1,89.3 735.5,85.0C735.9,80.7 736.2,76.8 737.5,74.0C738.8,71.2 740.6,69.3 743.0,68.0C745.4,66.7 748.8,66.0 752.0,66.0Z" fill="#c8ff2e"/><path d="M748.0,73.0C750.3,73.1 753.8,74.2 756.0,75.5C758.2,76.8 759.7,78.2 761.0,81.0C762.3,83.8 763.2,88.3 763.7,92.0C764.2,95.7 764.0,99.0 763.7,103.0C763.4,107.0 762.6,112.3 762.0,116.0C761.4,119.7 760.7,122.2 760.0,125.0C759.3,127.8 759.0,130.5 758.0,133.0C757.0,135.5 755.5,138.2 754.0,140.0C752.5,141.8 750.7,143.5 749.0,144.0C747.3,144.5 745.6,145.0 744.0,143.0C742.4,141.0 740.6,135.8 739.5,132.0C738.4,128.2 738.0,124.5 737.5,120.0C737.0,115.5 736.9,110.0 736.8,105.0C736.7,100.0 736.6,94.2 737.0,90.0C737.4,85.8 738.2,82.5 739.0,80.0C739.8,77.5 740.5,76.2 742.0,75.0C743.5,73.8 745.7,72.9 748.0,73.0Z" fill="#ffff00"/><path d="M749.0,85.0C750.6,84.4 752.6,86.0 754.0,87.5C755.4,89.0 756.7,91.2 757.5,94.0C758.3,96.8 758.5,100.2 758.6,104.0C758.7,107.8 758.6,113.0 758.0,117.0C757.4,121.0 756.2,125.0 755.0,128.0C753.8,131.0 752.0,134.0 750.5,135.0C749.0,136.0 747.2,135.5 746.0,134.0C744.8,132.5 744.0,129.3 743.5,126.0C743.0,122.7 743.0,118.3 743.0,114.0C743.0,109.7 743.0,103.8 743.2,100.0C743.5,96.2 743.5,93.5 744.5,91.0C745.5,88.5 747.4,85.6 749.0,85.0Z" fill="#ffc800"/><path d="M750.0,91.0C750.9,91.0 752.6,92.2 753.5,94.0C754.4,95.8 755.0,98.8 755.3,102.0C755.6,105.2 755.6,109.7 755.3,113.0C755.0,116.3 754.3,119.8 753.5,122.0C752.7,124.2 751.5,125.8 750.5,126.0C749.5,126.2 748.2,125.2 747.5,123.0C746.8,120.8 746.6,116.7 746.5,113.0C746.4,109.3 746.5,104.2 746.8,101.0C747.0,97.8 747.5,95.7 748.0,94.0C748.5,92.3 749.1,91.0 750.0,91.0Z" fill="#ff7f00"/><path d="M749.5,98.0C750.1,98.1 751.0,98.8 751.5,100.0C752.0,101.2 752.3,103.3 752.3,105.0C752.3,106.7 752.0,108.9 751.5,110.0C751.0,111.1 750.2,111.8 749.5,111.5C748.8,111.2 747.9,109.9 747.5,108.5C747.1,107.1 747.2,104.5 747.3,103.0C747.4,101.5 747.6,100.3 748.0,99.5C748.4,98.7 748.9,97.9 749.5,98.0Z" fill="#ff1400"/><path d="M735.5,64.0C736.2,61.2 737.4,57.9 739.0,56.0C740.6,54.1 743.5,52.5 745.0,52.5C746.5,52.5 747.8,53.8 748.0,56.0C748.2,58.2 747.0,62.7 746.0,66.0C745.0,69.3 743.4,73.5 742.0,76.0C740.6,78.5 738.7,81.5 737.5,81.0C736.3,80.5 735.3,75.8 735.0,73.0C734.7,70.2 734.8,66.8 735.5,64.0Z" fill="#c8ff2e"/><path d="M737.5,65.0C738.1,62.8 739.3,59.9 740.5,58.5C741.7,57.1 743.7,56.2 744.5,56.5C745.3,56.8 745.8,57.9 745.5,60.0C745.2,62.1 744.0,66.2 743.0,69.0C742.0,71.8 740.5,76.5 739.5,77.0C738.5,77.5 737.3,74.0 737.0,72.0C736.7,70.0 736.9,67.2 737.5,65.0Z" fill="#ffff00"/><path d="M741.0,65.5C742.3,64.5 747.2,65.2 750.0,65.5C752.8,65.8 756.6,66.5 758.0,67.5C759.4,68.5 760.0,70.6 758.5,71.5C757.0,72.4 751.8,73.0 749.0,73.0C746.2,73.0 743.3,72.8 742.0,71.5C740.7,70.2 739.7,66.5 741.0,65.5Z" fill="#ffff00"/><path d="M740.0,64.0C740.8,63.0 742.6,62.3 744.0,62.5C745.4,62.7 747.7,63.8 748.5,65.0C749.3,66.2 749.4,68.6 749.0,70.0C748.6,71.4 747.2,73.1 746.0,73.5C744.8,73.9 742.6,73.3 741.5,72.5C740.4,71.7 739.8,69.9 739.5,68.5C739.2,67.1 739.2,65.0 740.0,64.0Z" fill="#ff7f00"/><path d="M741.0,65.5C741.6,64.8 743.2,64.2 744.0,64.5C744.8,64.8 745.8,66.0 746.0,67.0C746.2,68.0 746.1,69.8 745.5,70.5C744.9,71.2 743.3,71.8 742.5,71.5C741.7,71.2 740.8,70.0 740.5,69.0C740.2,68.0 740.4,66.2 741.0,65.5Z" fill="#ff1400"/><g transform="translate(630,0)"><path d="M118.0,208.2C115.5,207.0 112.5,203.2 110.9,201.0C109.3,198.8 109.2,197.7 108.4,195.3C107.6,193.0 106.7,190.0 105.9,186.9C105.1,183.8 104.4,179.6 103.4,176.8C102.4,174.0 101.0,173.5 100.0,170.2C99.0,166.8 97.9,161.7 97.5,156.7C97.1,151.7 97.5,145.8 97.5,140.0C97.5,134.2 97.6,128.0 97.6,122.0C97.6,116.0 97.4,109.5 97.4,104.0C97.4,98.5 97.5,94.0 97.8,89.0C98.1,84.0 98.7,78.5 99.3,74.0C99.9,69.5 100.8,65.3 101.6,62.0C102.4,58.7 102.9,56.2 104.0,54.0C105.1,51.8 106.3,50.1 108.0,48.5C109.7,46.9 112.0,45.6 114.3,44.3C116.6,43.0 119.7,42.2 122.0,40.5C124.3,38.8 126.7,35.7 128.4,34.1C130.1,32.5 130.9,31.6 132.2,30.9C133.5,30.2 132.2,30.0 136.0,29.8C139.8,29.6 151.1,29.2 155.2,29.8C159.2,30.4 158.8,32.7 160.3,33.5C161.8,34.3 160.1,34.5 164.1,34.7C168.1,34.9 180.5,34.4 184.5,34.7C188.5,35.0 187.0,35.1 188.3,36.7C189.6,38.3 191.0,41.8 192.1,44.3C193.2,46.8 194.0,49.5 194.7,52.0C195.3,54.5 195.7,55.3 196.0,59.0C196.3,62.7 196.6,69.0 196.6,74.0C196.6,79.0 196.3,84.7 196.0,89.0C195.7,93.3 195.7,96.5 195.0,100.0C194.3,103.5 192.9,106.7 192.0,110.0C191.1,113.3 190.6,117.2 189.6,120.0C188.6,122.8 186.9,124.5 186.2,126.7C185.4,128.9 185.7,130.8 185.1,133.4C184.5,136.0 183.6,139.7 182.8,142.3C182.1,144.9 181.2,147.1 180.6,149.0C180.0,150.9 179.7,152.2 179.5,154.0C179.3,155.8 179.3,157.5 179.5,160.0C179.7,162.5 179.8,166.4 180.5,169.0C181.2,171.6 182.1,173.4 183.6,175.3C185.1,177.2 188.3,178.9 189.4,180.3C190.5,181.7 190.7,182.3 190.3,183.7C189.9,185.1 188.3,186.8 186.9,188.7C185.5,190.6 183.5,193.6 181.9,195.0C180.3,196.4 179.2,196.4 177.4,197.4C175.7,198.4 173.2,199.8 171.4,201.0C169.6,202.2 168.7,203.8 166.6,204.6C164.5,205.4 162.6,205.4 158.8,206.0C155.0,206.6 149.3,207.8 143.8,208.2C138.3,208.6 130.1,208.2 125.8,208.2C121.5,208.2 120.5,209.4 118.0,208.2Z" fill="none" stroke="#000" stroke-width="1.5"/><path d="M116.0,188.6C115.2,187.5 114.5,185.6 113.5,183.6C112.5,181.6 111.5,179.3 110.1,176.8C108.7,174.3 106.5,171.8 105.1,168.5C103.7,165.2 102.4,161.4 101.7,156.7C101.0,151.9 101.1,145.8 100.9,140.0C100.7,134.2 100.5,128.0 100.6,122.0C100.7,116.0 101.3,109.5 101.6,104.0C101.9,98.5 101.6,94.0 102.3,89.0C103.0,84.0 104.3,78.8 106.0,74.0C107.7,69.2 110.2,63.5 112.4,60.0C114.6,56.5 117.0,55.4 119.4,53.2C121.9,51.0 124.3,49.2 127.1,46.9C129.9,44.6 133.7,40.8 136.0,39.2C138.3,37.6 139.4,37.5 141.1,37.3C142.8,37.1 143.8,36.9 146.2,37.9C148.5,38.9 152.2,40.9 155.2,43.0C158.2,45.1 161.8,48.4 164.1,50.7C166.4,53.0 168.1,55.1 169.2,57.0C170.3,58.9 170.0,59.2 170.5,62.0C171.0,64.8 172.0,69.5 172.4,74.0C172.8,78.5 172.9,84.0 173.0,89.0C173.1,94.0 173.0,99.0 173.0,104.0C173.0,109.0 173.2,114.7 173.0,119.0C172.8,123.3 172.3,127.3 172.0,130.0C171.7,132.7 171.6,132.5 171.0,135.0C170.4,137.5 169.8,141.4 168.5,145.0C167.2,148.6 164.4,152.9 163.4,156.8C162.4,160.7 162.7,165.0 162.6,168.6C162.5,172.2 162.3,176.4 162.6,178.6C162.9,180.8 165.0,181.0 164.3,182.0C163.6,183.0 160.8,183.7 158.4,184.5C156.0,185.3 154.2,186.1 150.0,187.0C145.8,187.9 137.8,189.5 133.0,190.2C128.2,190.9 123.4,191.0 121.0,191.0C118.6,191.0 119.3,190.7 118.5,190.3C117.7,189.9 116.8,189.7 116.0,188.6Z" fill="none" stroke="#000" stroke-width="1.5"/><path d="M117.6,176.0C116.1,175.7 115.5,175.0 114.3,173.5C113.0,172.0 111.5,169.9 110.1,166.8C108.7,163.7 106.9,159.5 105.9,155.0C104.9,150.5 104.6,145.5 104.2,140.0C103.8,134.5 103.5,128.0 103.6,122.0C103.6,116.0 103.9,109.5 104.5,104.0C105.1,98.5 105.7,94.0 107.0,89.0C108.3,84.0 110.7,77.7 112.4,74.0C114.1,70.3 114.9,69.6 117.0,66.8C119.1,64.0 122.2,59.5 125.0,57.0C127.8,54.5 131.0,53.9 133.5,52.0C136.0,50.1 138.1,46.5 139.8,45.6C141.5,44.8 142.2,45.6 143.7,46.9C145.2,48.2 147.5,51.2 148.8,53.2C150.1,55.2 150.7,56.2 151.3,59.0C151.9,61.8 151.8,67.0 152.5,70.0C153.2,73.0 154.6,73.5 155.3,77.0C156.0,80.5 156.2,83.8 156.7,91.0C157.2,98.2 157.7,113.2 158.1,120.0C158.5,126.8 159.1,127.8 159.0,132.0C158.9,136.2 158.5,141.2 157.5,145.0C156.5,148.8 154.6,152.3 153.0,155.0C151.4,157.7 149.8,159.0 148.0,161.0C146.2,163.0 144.3,165.0 141.9,166.8C139.5,168.6 136.7,170.4 133.6,171.8C130.5,173.2 126.2,174.5 123.5,175.2C120.8,175.9 119.1,176.3 117.6,176.0Z" fill="none" stroke="#000" stroke-width="1.5"/><path d="M117.6,168.5C116.3,167.6 115.5,166.0 114.3,163.5C113.0,161.0 111.2,157.3 110.1,153.4C109.0,149.5 108.2,145.2 107.6,140.0C107.0,134.8 106.5,127.0 106.6,122.0C106.7,117.0 107.3,113.7 108.0,110.0C108.7,106.3 109.9,103.5 110.5,100.0C111.1,96.5 111.0,92.6 111.5,89.0C112.0,85.4 112.2,80.6 113.4,78.4C114.7,76.2 116.4,75.9 119.0,75.6C121.6,75.2 125.6,75.8 128.8,76.3C132.1,76.8 136.4,77.4 138.5,78.4C140.6,79.5 140.6,81.0 141.3,82.6C142.0,84.2 142.2,86.1 142.7,88.2C143.1,90.3 143.5,92.7 144.0,95.0C144.5,97.3 145.0,99.3 145.5,102.1C146.0,104.9 146.6,108.9 146.9,111.9C147.2,114.9 147.7,116.3 147.6,120.0C147.5,123.7 147.2,129.7 146.5,134.0C145.8,138.3 145.1,142.2 143.5,146.0C141.9,149.8 139.6,153.8 137.0,157.0C134.4,160.2 130.5,163.0 128.0,165.0C125.5,167.0 123.5,168.2 121.8,168.8C120.1,169.4 118.8,169.4 117.6,168.5Z" fill="none" stroke="#000" stroke-width="1.5"/><path d="M117.9,163.5C116.7,162.1 114.7,157.6 113.5,154.0C112.3,150.4 111.6,147.3 110.9,142.0C110.2,136.7 109.7,127.7 109.6,122.0C109.5,116.3 109.9,112.5 110.5,108.0C111.1,103.5 112.2,98.5 113.2,95.0C114.2,91.5 115.2,88.3 116.2,86.8C117.2,85.3 117.8,86.0 119.0,86.1C120.2,86.2 121.3,86.2 123.2,87.5C125.1,88.8 128.3,91.3 130.2,93.7C132.0,96.1 133.3,99.1 134.3,102.1C135.3,105.1 135.9,108.9 136.4,111.9C136.9,114.9 137.5,116.3 137.1,120.0C136.7,123.7 135.3,129.5 134.1,134.0C132.9,138.5 131.5,143.2 130.0,147.0C128.5,150.8 126.6,154.4 125.0,157.0C123.4,159.6 121.7,161.4 120.5,162.5C119.3,163.6 119.1,164.9 117.9,163.5Z" fill="none" stroke="#000" stroke-width="1.5"/><path d="M118.0,158.0C117.0,157.7 115.8,154.7 115.0,152.0C114.2,149.3 113.4,147.0 113.0,142.0C112.6,137.0 112.4,127.7 112.5,122.0C112.6,116.3 113.0,111.7 113.5,108.0C114.0,104.3 114.8,101.8 115.5,100.0C116.2,98.2 116.8,97.5 117.6,97.2C118.4,96.9 119.2,96.9 120.4,97.9C121.6,99.0 123.4,101.4 124.6,103.5C125.8,105.6 126.6,107.8 127.4,110.5C128.2,113.2 129.3,116.8 129.5,120.0C129.7,123.2 128.9,127.7 128.5,130.0C128.1,132.3 127.8,131.5 127.1,134.0C126.4,136.5 125.5,141.7 124.5,145.0C123.5,148.3 122.1,151.8 121.0,154.0C119.9,156.2 119.0,158.3 118.0,158.0Z" fill="none" stroke="#000" stroke-width="1.5"/><path d="M118.4,151.8C117.7,151.5 116.8,147.0 116.3,144.0C115.8,141.0 115.6,137.7 115.4,134.0C115.2,130.3 115.3,125.7 115.4,122.0C115.5,118.3 115.7,113.9 116.2,111.9C116.7,109.9 117.6,109.6 118.3,109.8C119.0,110.0 119.7,111.6 120.4,113.3C121.1,115.0 122.2,117.5 122.5,120.0C122.8,122.5 122.6,125.3 122.5,128.0C122.4,130.7 122.3,133.0 122.0,136.0C121.7,139.0 121.3,143.4 120.7,146.0C120.1,148.6 119.1,152.1 118.4,151.8Z" fill="none" stroke="#000" stroke-width="1.5"/><path d="M118.2,122.8C120.3,127 120.3,137 118.2,140.8C116.1,137 116.1,127 118.2,122.8Z" fill="#000"/><g transform="translate(125.4,60.2) rotate(-34)"><rect x="-10.8" y="-7.75" width="21.6" height="15.5" fill="#fff"/><text x="0" y="4.83" text-anchor="middle" style="font-family:'Liberation Sans',sans-serif;font-size:13.5px">1.5</text></g><g transform="translate(173.9,79.4) rotate(90)"><rect x="-5.1" y="-7.75" width="10.2" height="15.5" fill="#fff"/><text x="0" y="4.83" text-anchor="middle" style="font-family:'Liberation Sans',sans-serif;font-size:13.5px">1</text></g><g transform="translate(194.6,104.6) rotate(-83)"><rect x="-7.0" y="-7.75" width="13.9" height="15.5" fill="#fff"/><text x="0" y="4.83" text-anchor="middle" style="font-family:'Liberation Sans',sans-serif;font-size:13.5px">.5</text></g><g transform="translate(145.1,94.4) rotate(80)"><rect x="-5.2" y="-7.75" width="10.5" height="15.5" fill="#fff"/><text x="0" y="4.83" text-anchor="middle" style="font-family:'Liberation Sans',sans-serif;font-size:13.5px">2</text></g><g transform="translate(159.5,132.9) rotate(-90)"><rect x="-10.8" y="-7.75" width="21.6" height="15.5" fill="#fff"/><text x="0" y="4.83" text-anchor="middle" style="font-family:'Liberation Sans',sans-serif;font-size:13.5px">1.5</text></g><g transform="translate(162.75,162.6) rotate(-90)"><rect x="-5.1" y="-7.75" width="10.2" height="15.5" fill="#fff"/><text x="0" y="4.83" text-anchor="middle" style="font-family:'Liberation Sans',sans-serif;font-size:13.5px">1</text></g><g transform="translate(116.4,205.7) rotate(45)"><rect x="-7.0" y="-7.75" width="13.9" height="15.5" fill="#fff"/><text x="0" y="4.83" text-anchor="middle" style="font-family:'Liberation Sans',sans-serif;font-size:13.5px">.5</text></g><g transform="translate(151.3,207.6) rotate(-2)"><rect x="-7.0" y="-7.75" width="13.9" height="15.5" fill="#fff"/><text x="0" y="4.83" text-anchor="middle" style="font-family:'Liberation Sans',sans-serif;font-size:13.5px">.5</text></g></g></g>
<rect x="703" y="29" width="225" height="225" fill="none" stroke="#000" stroke-width="2"/>
<path d="M700.2,254H703M700.2,29.5H703M700.2,53H703M700.2,73H703M700.2,90.2H703M700.2,107.6H703M700.2,124H703M700.2,140H703M700.2,156H703M700.2,163.8H703M700.2,171.5H703M700.2,182.7H703M700.2,194.7H703M700.2,207H703M700.2,216.2H703M700.2,226H703M700.2,235.2H703M700.2,244H703M703.0,254V256.8M725.5,254V256.8M748.0,254V256.8M770.5,254V256.8M793.0,254V256.8M815.5,254V256.8M838.0,254V256.8M860.5,254V256.8M883.0,254V256.8M905.5,254V256.8M928.0,254V256.8" stroke="#000" stroke-width="1.6" fill="none"/>
<text class="t" x="689" y="35.1" text-anchor="end">3000</text>
<text class="t" x="689" y="58.6" text-anchor="end">1800</text>
<text class="t" x="689" y="78.6" text-anchor="end">1500</text>
<text class="t" x="689" y="95.8" text-anchor="end">1250</text>
<text class="t" x="689" y="113.19999999999999" text-anchor="end">1000</text>
<text class="t" x="689" y="129.6" text-anchor="end">800</text>
<text class="t" x="689" y="145.6" text-anchor="end">600</text>
<text class="t" x="689" y="161.6" text-anchor="end">400</text>
<text class="t" x="689" y="188.29999999999998" text-anchor="end">100</text>
<text class="t" x="689" y="212.6" text-anchor="end">50</text>
<text class="t" x="689" y="231.6" text-anchor="end">30</text>
<text class="t" x="689" y="249.6" text-anchor="end">10</text>
<text class="t" x="703.0" y="279.8" text-anchor="middle">0</text>
<text class="t" x="725.5" y="279.8" text-anchor="middle">10</text>
<text class="t" x="748.0" y="279.8" text-anchor="middle">20</text>
<text class="t" x="770.5" y="279.8" text-anchor="middle">30</text>
<text class="t" x="793.0" y="279.8" text-anchor="middle">40</text>
<text class="t" x="815.5" y="279.8" text-anchor="middle">50</text>
<text class="t" x="838.0" y="279.8" text-anchor="middle">60</text>
<text class="t" x="860.5" y="279.8" text-anchor="middle">70</text>
<text class="t" x="883.0" y="279.8" text-anchor="middle">80</text>
<text class="t" x="905.5" y="279.8" text-anchor="middle">90</text>
<text class="t" x="928.0" y="279.8" text-anchor="middle">100</text>
<text class="ax" x="815.5" y="302" text-anchor="middle">Radius (km)</text>
<text class="ax" transform="translate(643.1,141.6) rotate(-90)" text-anchor="middle">Height (m)</text>
<text class="pl" x="698.2" y="17.6">C</text>
<text style="font-size:19.4px" x="876.2" y="241.8">Kmr</text>
<path d="M217,326.5L171,334L217,341.5" fill="#fff" stroke="#aaa" stroke-width="0.8"/><rect x="217" y="326.5" width="46" height="15.0" fill="#d6e0fd" stroke="#555" stroke-width="0.6"/><rect x="263" y="326.5" width="46" height="15.0" fill="#8fb2fc" stroke="#555" stroke-width="0.6"/><rect x="309" y="326.5" width="46" height="15.0" fill="#8096fc" stroke="#555" stroke-width="0.6"/><rect x="355" y="326.5" width="46" height="15.0" fill="#6a72fc" stroke="#555" stroke-width="0.6"/><rect x="401" y="326.5" width="46" height="15.0" fill="#009892" stroke="#555" stroke-width="0.6"/><rect x="447" y="326.5" width="46" height="15.0" fill="#00c82e" stroke="#555" stroke-width="0.6"/><rect x="493" y="326.5" width="46" height="15.0" fill="#66ff00" stroke="#555" stroke-width="0.6"/><rect x="539" y="326.5" width="46" height="15.0" fill="#c8ff2e" stroke="#555" stroke-width="0.6"/><rect x="585" y="326.5" width="46" height="15.0" fill="#ffff00" stroke="#555" stroke-width="0.6"/><rect x="631" y="326.5" width="46" height="15.0" fill="#ffc800" stroke="#555" stroke-width="0.6"/><rect x="677" y="326.5" width="46" height="15.0" fill="#ff7f00" stroke="#555" stroke-width="0.6"/><path d="M723,326.5L769,334L723,341.5Z" fill="#ff1400"/><text class="cb" x="217" y="356" text-anchor="middle">5</text><text class="cb" x="263" y="356" text-anchor="middle">10</text><text class="cb" x="309" y="356" text-anchor="middle">30</text><text class="cb" x="355" y="356" text-anchor="middle">50</text><text class="cb" x="401" y="356" text-anchor="middle">70</text><text class="cb" x="447" y="356" text-anchor="middle">90</text><text class="cb" x="493" y="356" text-anchor="middle">110</text><text class="cb" x="539" y="356" text-anchor="middle">130</text><text class="cb" x="585" y="356" text-anchor="middle">150</text><text class="cb" x="631" y="356" text-anchor="middle">170</text><text class="cb" x="677" y="356" text-anchor="middle">190</text><text class="cb" x="723" y="356" text-anchor="middle">210</text><text x="432.3" y="318.4" style="font-size:16px">Km (m<tspan dx="0.8" dy="-6.5" style="font-size:11px">2</tspan><tspan dy="6.5">·s</tspan><tspan dx="0.5" dy="-6.5" style="font-size:11px">-1</tspan><tspan dy="6.5">)</tspan></text>
</svg></body></html>
